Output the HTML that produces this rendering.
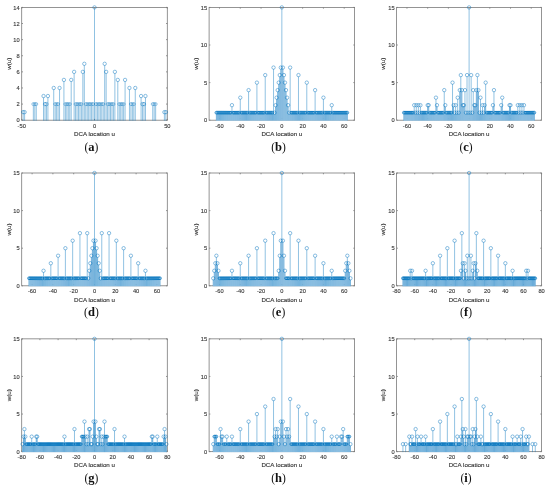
<!DOCTYPE html><html><head><meta charset="utf-8"><title>Weight functions</title>
<style>html,body{margin:0;padding:0;background:#fff}svg{display:block}.t{font-family:"Liberation Sans",Arial,sans-serif;font-size:5.7px;fill:#383838;stroke:#383838;stroke-width:0.12px}.l{font-family:"Liberation Sans",Arial,sans-serif;font-size:6.2px;fill:#383838;stroke:#383838;stroke-width:0.15px}.c{font-family:"Liberation Serif","DejaVu Serif",serif;font-size:11.5px;fill:#111}.c tspan{font-weight:bold;font-size:12.5px}</style></head><body>
<svg width="550" height="489" viewBox="0 0 550 489">
<rect width="550" height="489" fill="#fff"/>
<g id="plot-a">
<rect x="21.7" y="7.4" width="145.6" height="112.8" fill="none" stroke="#7a7a7a" stroke-width="0.8"/>
<text class="t" x="21.7" y="127.8" text-anchor="middle">-50</text>
<text class="t" x="94.5" y="127.8" text-anchor="middle">0</text>
<text class="t" x="167.3" y="127.8" text-anchor="middle">50</text>
<text class="t" x="19.7" y="122.3" text-anchor="end">0</text>
<text class="t" x="19.7" y="106.19" text-anchor="end">2</text>
<text class="t" x="19.7" y="90.07" text-anchor="end">4</text>
<text class="t" x="19.7" y="73.96" text-anchor="end">6</text>
<text class="t" x="19.7" y="57.84" text-anchor="end">8</text>
<text class="t" x="19.7" y="41.73" text-anchor="end">10</text>
<text class="t" x="19.7" y="25.61" text-anchor="end">12</text>
<text class="t" x="19.7" y="9.5" text-anchor="end">14</text>
<path d="M21.7 120.2v-1.3M21.7 7.4v1.3M94.5 120.2v-1.3M94.5 7.4v1.3M167.3 120.2v-1.3M167.3 7.4v1.3M21.7 120.2h1.3M167.3 120.2h-1.3M21.7 104.09h1.3M167.3 104.09h-1.3M21.7 87.97h1.3M167.3 87.97h-1.3M21.7 71.86h1.3M167.3 71.86h-1.3M21.7 55.74h1.3M167.3 55.74h-1.3M21.7 39.63h1.3M167.3 39.63h-1.3M21.7 23.51h1.3M167.3 23.51h-1.3M21.7 7.4h1.3M167.3 7.4h-1.3" stroke="#7a7a7a" stroke-width="0.8" fill="none"/>
<path d="M23.16 120.7V113.64M24.61 120.7V113.64M33.35 120.7V105.59M34.8 120.7V105.59M36.26 120.7V105.59M43.54 120.7V97.53M45 120.7V105.59M46.45 120.7V105.59M47.91 120.7V97.53M53.73 120.7V89.47M55.19 120.7V105.59M56.64 120.7V105.59M58.1 120.7V105.59M59.56 120.7V89.47M63.92 120.7V81.41M65.38 120.7V105.59M66.84 120.7V105.59M68.29 120.7V105.59M69.75 120.7V105.59M71.2 120.7V81.41M74.12 120.7V73.36M75.57 120.7V105.59M77.03 120.7V105.59M78.48 120.7V105.59M79.94 120.7V105.59M81.4 120.7V105.59M82.85 120.7V73.36M84.31 120.7V65.3M85.76 120.7V105.59M87.22 120.7V105.59M88.68 120.7V105.59M90.13 120.7V105.59M91.59 120.7V105.59M93.04 120.7V105.59M94.5 120.7V8.9M95.96 120.7V105.59M97.41 120.7V105.59M98.87 120.7V105.59M100.32 120.7V105.59M101.78 120.7V105.59M103.24 120.7V105.59M104.69 120.7V65.3M106.15 120.7V73.36M107.6 120.7V105.59M109.06 120.7V105.59M110.52 120.7V105.59M111.97 120.7V105.59M113.43 120.7V105.59M114.88 120.7V73.36M117.8 120.7V81.41M119.25 120.7V105.59M120.71 120.7V105.59M122.16 120.7V105.59M123.62 120.7V105.59M125.08 120.7V81.41M129.44 120.7V89.47M130.9 120.7V105.59M132.36 120.7V105.59M133.81 120.7V105.59M135.27 120.7V89.47M141.09 120.7V97.53M142.55 120.7V105.59M144 120.7V105.59M145.46 120.7V97.53M152.74 120.7V105.59M154.2 120.7V105.59M155.65 120.7V105.59M164.39 120.7V113.64M165.84 120.7V113.64" stroke="#0072BD" stroke-width="0.8" stroke-opacity="0.55" fill="none"/>
<g fill="none" stroke="#0072BD" stroke-width="0.5" stroke-opacity="0.9">
<circle cx="23.16" cy="112.14" r="1.7"/>
<circle cx="24.61" cy="112.14" r="1.7"/>
<circle cx="43.54" cy="96.03" r="1.7"/>
<circle cx="45" cy="104.09" r="1.7"/>
<circle cx="46.45" cy="104.09" r="1.7"/>
<circle cx="47.91" cy="96.03" r="1.7"/>
<circle cx="53.73" cy="87.97" r="1.7"/>
<circle cx="59.56" cy="87.97" r="1.7"/>
<circle cx="63.92" cy="79.91" r="1.7"/>
<circle cx="71.2" cy="79.91" r="1.7"/>
<circle cx="74.12" cy="71.86" r="1.7"/>
<circle cx="82.85" cy="71.86" r="1.7"/>
<circle cx="84.31" cy="63.8" r="1.7"/>
<circle cx="94.5" cy="7.4" r="1.7"/>
<circle cx="104.69" cy="63.8" r="1.7"/>
<circle cx="106.15" cy="71.86" r="1.7"/>
<circle cx="114.88" cy="71.86" r="1.7"/>
<circle cx="117.8" cy="79.91" r="1.7"/>
<circle cx="125.08" cy="79.91" r="1.7"/>
<circle cx="129.44" cy="87.97" r="1.7"/>
<circle cx="135.27" cy="87.97" r="1.7"/>
<circle cx="141.09" cy="96.03" r="1.7"/>
<circle cx="142.55" cy="104.09" r="1.7"/>
<circle cx="144" cy="104.09" r="1.7"/>
<circle cx="145.46" cy="96.03" r="1.7"/>
<circle cx="164.39" cy="112.14" r="1.7"/>
<circle cx="165.84" cy="112.14" r="1.7"/>
</g>
<g fill="none" stroke="#0072BD" stroke-width="0.5" stroke-opacity="0.85">
<circle cx="33.35" cy="104.09" r="1.5"/>
<circle cx="34.8" cy="104.09" r="1.5"/>
<circle cx="36.26" cy="104.09" r="1.5"/>
<circle cx="55.19" cy="104.09" r="1.5"/>
<circle cx="56.64" cy="104.09" r="1.5"/>
<circle cx="58.1" cy="104.09" r="1.5"/>
<circle cx="65.38" cy="104.09" r="1.5"/>
<circle cx="66.84" cy="104.09" r="1.5"/>
<circle cx="68.29" cy="104.09" r="1.5"/>
<circle cx="69.75" cy="104.09" r="1.5"/>
<circle cx="75.57" cy="104.09" r="1.5"/>
<circle cx="77.03" cy="104.09" r="1.5"/>
<circle cx="78.48" cy="104.09" r="1.5"/>
<circle cx="79.94" cy="104.09" r="1.5"/>
<circle cx="81.4" cy="104.09" r="1.5"/>
<circle cx="85.76" cy="104.09" r="1.5"/>
<circle cx="87.22" cy="104.09" r="1.5"/>
<circle cx="88.68" cy="104.09" r="1.5"/>
<circle cx="90.13" cy="104.09" r="1.5"/>
<circle cx="91.59" cy="104.09" r="1.5"/>
<circle cx="93.04" cy="104.09" r="1.5"/>
<circle cx="95.96" cy="104.09" r="1.5"/>
<circle cx="97.41" cy="104.09" r="1.5"/>
<circle cx="98.87" cy="104.09" r="1.5"/>
<circle cx="100.32" cy="104.09" r="1.5"/>
<circle cx="101.78" cy="104.09" r="1.5"/>
<circle cx="103.24" cy="104.09" r="1.5"/>
<circle cx="107.6" cy="104.09" r="1.5"/>
<circle cx="109.06" cy="104.09" r="1.5"/>
<circle cx="110.52" cy="104.09" r="1.5"/>
<circle cx="111.97" cy="104.09" r="1.5"/>
<circle cx="113.43" cy="104.09" r="1.5"/>
<circle cx="119.25" cy="104.09" r="1.5"/>
<circle cx="120.71" cy="104.09" r="1.5"/>
<circle cx="122.16" cy="104.09" r="1.5"/>
<circle cx="123.62" cy="104.09" r="1.5"/>
<circle cx="130.9" cy="104.09" r="1.5"/>
<circle cx="132.36" cy="104.09" r="1.5"/>
<circle cx="133.81" cy="104.09" r="1.5"/>
<circle cx="152.74" cy="104.09" r="1.5"/>
<circle cx="154.2" cy="104.09" r="1.5"/>
<circle cx="155.65" cy="104.09" r="1.5"/>
</g>
<text class="l" x="94.5" y="136" text-anchor="middle">DCA location u</text>
<text class="l" transform="translate(10.5 63.8) rotate(-90)" text-anchor="middle">w(u)</text>
<text class="c" x="91.4" y="150.55" text-anchor="middle">(<tspan>a</tspan>)</text>
</g>
<g id="plot-b">
<rect x="209.1" y="7.4" width="145.5" height="112.8" fill="none" stroke="#7a7a7a" stroke-width="0.8"/>
<text class="t" x="219.49" y="127.8" text-anchor="middle">-60</text>
<text class="t" x="240.28" y="127.8" text-anchor="middle">-40</text>
<text class="t" x="261.06" y="127.8" text-anchor="middle">-20</text>
<text class="t" x="281.85" y="127.8" text-anchor="middle">0</text>
<text class="t" x="302.64" y="127.8" text-anchor="middle">20</text>
<text class="t" x="323.42" y="127.8" text-anchor="middle">40</text>
<text class="t" x="344.21" y="127.8" text-anchor="middle">60</text>
<text class="t" x="207.1" y="122.3" text-anchor="end">0</text>
<text class="t" x="207.1" y="84.7" text-anchor="end">5</text>
<text class="t" x="207.1" y="47.1" text-anchor="end">10</text>
<text class="t" x="207.1" y="9.5" text-anchor="end">15</text>
<path d="M219.49 120.2v-1.3M219.49 7.4v1.3M240.28 120.2v-1.3M240.28 7.4v1.3M261.06 120.2v-1.3M261.06 7.4v1.3M281.85 120.2v-1.3M281.85 7.4v1.3M302.64 120.2v-1.3M302.64 7.4v1.3M323.42 120.2v-1.3M323.42 7.4v1.3M344.21 120.2v-1.3M344.21 7.4v1.3M209.1 120.2h1.3M354.6 120.2h-1.3M209.1 82.6h1.3M354.6 82.6h-1.3M209.1 45h1.3M354.6 45h-1.3M209.1 7.4h1.3M354.6 7.4h-1.3" stroke="#7a7a7a" stroke-width="0.8" fill="none"/>
<rect x="216.18" y="118.8" width="131.35" height="1.9" fill="#fff"/>
<path d="M231.96 112.68V106.66M240.28 112.68V99.14M248.59 112.68V91.62M256.91 112.68V84.1M265.22 112.68V76.58M273.54 112.68V69.06M281.85 67.56V8.9M290.16 112.68V69.06M298.48 112.68V76.58M306.79 112.68V84.1M315.11 112.68V91.62M323.42 112.68V99.14M331.74 112.68V106.66" stroke="#0072BD" stroke-width="0.8" stroke-opacity="0.55" fill="none"/>
<path d="M216.38 120.7V114.18M217.41 120.7V114.18M218.45 120.7V114.18M219.49 120.7V114.18M220.53 120.7V114.18M221.57 120.7V114.18M222.61 120.7V114.18M223.65 120.7V114.18M224.69 120.7V114.18M225.73 120.7V114.18M226.77 120.7V114.18M227.81 120.7V114.18M228.85 120.7V114.18M229.89 120.7V114.18M230.93 120.7V114.18M231.96 120.7V112.68M233 120.7V114.18M234.04 120.7V114.18M235.08 120.7V114.18M236.12 120.7V114.18M237.16 120.7V114.18M238.2 120.7V114.18M239.24 120.7V114.18M240.28 120.7V112.68M241.32 120.7V114.18M242.36 120.7V114.18M243.4 120.7V114.18M244.44 120.7V114.18M245.48 120.7V114.18M246.51 120.7V114.18M247.55 120.7V114.18M248.59 120.7V112.68M249.63 120.7V114.18M250.67 120.7V114.18M251.71 120.7V114.18M252.75 120.7V114.18M253.79 120.7V114.18M254.83 120.7V114.18M255.87 120.7V114.18M256.91 120.7V112.68M257.95 120.7V114.18M258.99 120.7V114.18M260.03 120.7V114.18M261.06 120.7V114.18M262.1 120.7V114.18M263.14 120.7V114.18M264.18 120.7V114.18M265.22 120.7V112.68M266.26 120.7V114.18M267.3 120.7V114.18M268.34 120.7V114.18M269.38 120.7V114.18M270.42 120.7V114.18M271.46 120.7V114.18M272.5 120.7V114.18M273.54 120.7V112.68M274.58 120.7V114.18M275.61 120.7V106.66M276.65 120.7V99.14M277.69 120.7V91.62M278.73 120.7V84.1M279.77 120.7V76.58M280.81 120.7V69.06M281.85 120.7V67.56M282.89 120.7V69.06M283.93 120.7V76.58M284.97 120.7V84.1M286.01 120.7V91.62M287.05 120.7V99.14M288.09 120.7V106.66M289.12 120.7V114.18M290.16 120.7V112.68M291.2 120.7V114.18M292.24 120.7V114.18M293.28 120.7V114.18M294.32 120.7V114.18M295.36 120.7V114.18M296.4 120.7V114.18M297.44 120.7V114.18M298.48 120.7V112.68M299.52 120.7V114.18M300.56 120.7V114.18M301.6 120.7V114.18M302.64 120.7V114.18M303.68 120.7V114.18M304.71 120.7V114.18M305.75 120.7V114.18M306.79 120.7V112.68M307.83 120.7V114.18M308.87 120.7V114.18M309.91 120.7V114.18M310.95 120.7V114.18M311.99 120.7V114.18M313.03 120.7V114.18M314.07 120.7V114.18M315.11 120.7V112.68M316.15 120.7V114.18M317.19 120.7V114.18M318.23 120.7V114.18M319.26 120.7V114.18M320.3 120.7V114.18M321.34 120.7V114.18M322.38 120.7V114.18M323.42 120.7V112.68M324.46 120.7V114.18M325.5 120.7V114.18M326.54 120.7V114.18M327.58 120.7V114.18M328.62 120.7V114.18M329.66 120.7V114.18M330.7 120.7V114.18M331.74 120.7V112.68M332.78 120.7V114.18M333.81 120.7V114.18M334.85 120.7V114.18M335.89 120.7V114.18M336.93 120.7V114.18M337.97 120.7V114.18M339.01 120.7V114.18M340.05 120.7V114.18M341.09 120.7V114.18M342.13 120.7V114.18M343.17 120.7V114.18M344.21 120.7V114.18M345.25 120.7V114.18M346.29 120.7V114.18M347.33 120.7V114.18" stroke="#0072BD" stroke-width="0.9" stroke-opacity="0.62" fill="none"/>
<g fill="none" stroke="#0072BD" stroke-width="0.5" stroke-opacity="0.9">
<circle cx="231.96" cy="105.16" r="1.7"/>
<circle cx="240.28" cy="97.64" r="1.7"/>
<circle cx="248.59" cy="90.12" r="1.7"/>
<circle cx="256.91" cy="82.6" r="1.7"/>
<circle cx="265.22" cy="75.08" r="1.7"/>
<circle cx="273.54" cy="67.56" r="1.7"/>
<circle cx="274.58" cy="112.68" r="1.7"/>
<circle cx="275.61" cy="105.16" r="1.7"/>
<circle cx="276.65" cy="97.64" r="1.7"/>
<circle cx="277.69" cy="90.12" r="1.7"/>
<circle cx="278.73" cy="82.6" r="1.7"/>
<circle cx="279.77" cy="75.08" r="1.7"/>
<circle cx="280.81" cy="67.56" r="1.7"/>
<circle cx="281.85" cy="7.4" r="1.7"/>
<circle cx="282.89" cy="67.56" r="1.7"/>
<circle cx="283.93" cy="75.08" r="1.7"/>
<circle cx="284.97" cy="82.6" r="1.7"/>
<circle cx="286.01" cy="90.12" r="1.7"/>
<circle cx="287.05" cy="97.64" r="1.7"/>
<circle cx="288.09" cy="105.16" r="1.7"/>
<circle cx="289.12" cy="112.68" r="1.7"/>
<circle cx="290.16" cy="67.56" r="1.7"/>
<circle cx="298.48" cy="75.08" r="1.7"/>
<circle cx="306.79" cy="82.6" r="1.7"/>
<circle cx="315.11" cy="90.12" r="1.7"/>
<circle cx="323.42" cy="97.64" r="1.7"/>
<circle cx="331.74" cy="105.16" r="1.7"/>
</g>
<g fill="none" stroke="#0072BD" stroke-width="0.7" stroke-opacity="1.0">
<circle cx="216.38" cy="112.68" r="1.4"/>
<circle cx="217.41" cy="112.68" r="1.4"/>
<circle cx="218.45" cy="112.68" r="1.4"/>
<circle cx="219.49" cy="112.68" r="1.4"/>
<circle cx="220.53" cy="112.68" r="1.4"/>
<circle cx="221.57" cy="112.68" r="1.4"/>
<circle cx="222.61" cy="112.68" r="1.4"/>
<circle cx="223.65" cy="112.68" r="1.4"/>
<circle cx="224.69" cy="112.68" r="1.4"/>
<circle cx="225.73" cy="112.68" r="1.4"/>
<circle cx="226.77" cy="112.68" r="1.4"/>
<circle cx="227.81" cy="112.68" r="1.4"/>
<circle cx="228.85" cy="112.68" r="1.4"/>
<circle cx="229.89" cy="112.68" r="1.4"/>
<circle cx="230.93" cy="112.68" r="1.4"/>
<circle cx="233" cy="112.68" r="1.4"/>
<circle cx="234.04" cy="112.68" r="1.4"/>
<circle cx="235.08" cy="112.68" r="1.4"/>
<circle cx="236.12" cy="112.68" r="1.4"/>
<circle cx="237.16" cy="112.68" r="1.4"/>
<circle cx="238.2" cy="112.68" r="1.4"/>
<circle cx="239.24" cy="112.68" r="1.4"/>
<circle cx="241.32" cy="112.68" r="1.4"/>
<circle cx="242.36" cy="112.68" r="1.4"/>
<circle cx="243.4" cy="112.68" r="1.4"/>
<circle cx="244.44" cy="112.68" r="1.4"/>
<circle cx="245.48" cy="112.68" r="1.4"/>
<circle cx="246.51" cy="112.68" r="1.4"/>
<circle cx="247.55" cy="112.68" r="1.4"/>
<circle cx="249.63" cy="112.68" r="1.4"/>
<circle cx="250.67" cy="112.68" r="1.4"/>
<circle cx="251.71" cy="112.68" r="1.4"/>
<circle cx="252.75" cy="112.68" r="1.4"/>
<circle cx="253.79" cy="112.68" r="1.4"/>
<circle cx="254.83" cy="112.68" r="1.4"/>
<circle cx="255.87" cy="112.68" r="1.4"/>
<circle cx="257.95" cy="112.68" r="1.4"/>
<circle cx="258.99" cy="112.68" r="1.4"/>
<circle cx="260.03" cy="112.68" r="1.4"/>
<circle cx="261.06" cy="112.68" r="1.4"/>
<circle cx="262.1" cy="112.68" r="1.4"/>
<circle cx="263.14" cy="112.68" r="1.4"/>
<circle cx="264.18" cy="112.68" r="1.4"/>
<circle cx="266.26" cy="112.68" r="1.4"/>
<circle cx="267.3" cy="112.68" r="1.4"/>
<circle cx="268.34" cy="112.68" r="1.4"/>
<circle cx="269.38" cy="112.68" r="1.4"/>
<circle cx="270.42" cy="112.68" r="1.4"/>
<circle cx="271.46" cy="112.68" r="1.4"/>
<circle cx="272.5" cy="112.68" r="1.4"/>
<circle cx="291.2" cy="112.68" r="1.4"/>
<circle cx="292.24" cy="112.68" r="1.4"/>
<circle cx="293.28" cy="112.68" r="1.4"/>
<circle cx="294.32" cy="112.68" r="1.4"/>
<circle cx="295.36" cy="112.68" r="1.4"/>
<circle cx="296.4" cy="112.68" r="1.4"/>
<circle cx="297.44" cy="112.68" r="1.4"/>
<circle cx="299.52" cy="112.68" r="1.4"/>
<circle cx="300.56" cy="112.68" r="1.4"/>
<circle cx="301.6" cy="112.68" r="1.4"/>
<circle cx="302.64" cy="112.68" r="1.4"/>
<circle cx="303.68" cy="112.68" r="1.4"/>
<circle cx="304.71" cy="112.68" r="1.4"/>
<circle cx="305.75" cy="112.68" r="1.4"/>
<circle cx="307.83" cy="112.68" r="1.4"/>
<circle cx="308.87" cy="112.68" r="1.4"/>
<circle cx="309.91" cy="112.68" r="1.4"/>
<circle cx="310.95" cy="112.68" r="1.4"/>
<circle cx="311.99" cy="112.68" r="1.4"/>
<circle cx="313.03" cy="112.68" r="1.4"/>
<circle cx="314.07" cy="112.68" r="1.4"/>
<circle cx="316.15" cy="112.68" r="1.4"/>
<circle cx="317.19" cy="112.68" r="1.4"/>
<circle cx="318.23" cy="112.68" r="1.4"/>
<circle cx="319.26" cy="112.68" r="1.4"/>
<circle cx="320.3" cy="112.68" r="1.4"/>
<circle cx="321.34" cy="112.68" r="1.4"/>
<circle cx="322.38" cy="112.68" r="1.4"/>
<circle cx="324.46" cy="112.68" r="1.4"/>
<circle cx="325.5" cy="112.68" r="1.4"/>
<circle cx="326.54" cy="112.68" r="1.4"/>
<circle cx="327.58" cy="112.68" r="1.4"/>
<circle cx="328.62" cy="112.68" r="1.4"/>
<circle cx="329.66" cy="112.68" r="1.4"/>
<circle cx="330.7" cy="112.68" r="1.4"/>
<circle cx="332.78" cy="112.68" r="1.4"/>
<circle cx="333.81" cy="112.68" r="1.4"/>
<circle cx="334.85" cy="112.68" r="1.4"/>
<circle cx="335.89" cy="112.68" r="1.4"/>
<circle cx="336.93" cy="112.68" r="1.4"/>
<circle cx="337.97" cy="112.68" r="1.4"/>
<circle cx="339.01" cy="112.68" r="1.4"/>
<circle cx="340.05" cy="112.68" r="1.4"/>
<circle cx="341.09" cy="112.68" r="1.4"/>
<circle cx="342.13" cy="112.68" r="1.4"/>
<circle cx="343.17" cy="112.68" r="1.4"/>
<circle cx="344.21" cy="112.68" r="1.4"/>
<circle cx="345.25" cy="112.68" r="1.4"/>
<circle cx="346.29" cy="112.68" r="1.4"/>
<circle cx="347.33" cy="112.68" r="1.4"/>
</g>
<text class="l" x="281.85" y="136" text-anchor="middle">DCA location u</text>
<text class="l" transform="translate(197.9 63.8) rotate(-90)" text-anchor="middle">w(u)</text>
<text class="c" x="278.6" y="150.55" text-anchor="middle">(<tspan>b</tspan>)</text>
</g>
<g id="plot-c">
<rect x="396.6" y="7.4" width="145" height="112.8" fill="none" stroke="#7a7a7a" stroke-width="0.8"/>
<text class="t" x="406.96" y="127.8" text-anchor="middle">-60</text>
<text class="t" x="427.67" y="127.8" text-anchor="middle">-40</text>
<text class="t" x="448.39" y="127.8" text-anchor="middle">-20</text>
<text class="t" x="469.1" y="127.8" text-anchor="middle">0</text>
<text class="t" x="489.81" y="127.8" text-anchor="middle">20</text>
<text class="t" x="510.53" y="127.8" text-anchor="middle">40</text>
<text class="t" x="531.24" y="127.8" text-anchor="middle">60</text>
<text class="t" x="394.6" y="122.3" text-anchor="end">0</text>
<text class="t" x="394.6" y="84.7" text-anchor="end">5</text>
<text class="t" x="394.6" y="47.1" text-anchor="end">10</text>
<text class="t" x="394.6" y="9.5" text-anchor="end">15</text>
<path d="M406.96 120.2v-1.3M406.96 7.4v1.3M427.67 120.2v-1.3M427.67 7.4v1.3M448.39 120.2v-1.3M448.39 7.4v1.3M469.1 120.2v-1.3M469.1 7.4v1.3M489.81 120.2v-1.3M489.81 7.4v1.3M510.53 120.2v-1.3M510.53 7.4v1.3M531.24 120.2v-1.3M531.24 7.4v1.3M396.6 120.2h1.3M541.6 120.2h-1.3M396.6 82.6h1.3M541.6 82.6h-1.3M396.6 45h1.3M541.6 45h-1.3M396.6 7.4h1.3M541.6 7.4h-1.3" stroke="#7a7a7a" stroke-width="0.8" fill="none"/>
<rect x="403.65" y="118.8" width="130.9" height="1.9" fill="#fff"/>
<path d="M414.21 112.68V106.66M416.28 112.68V106.66M418.35 112.68V106.66M420.42 112.68V106.66M435.96 105.16V99.14M444.24 105.16V91.62M452.53 105.16V84.1M455.64 112.68V106.66M457.71 112.68V99.14M460.81 90.12V76.58M464.96 105.16V91.62M467.03 112.68V76.58M469.1 112.68V8.9M471.17 112.68V76.58M473.24 105.16V91.62M477.39 90.12V76.58M480.49 112.68V99.14M482.56 112.68V106.66M485.67 105.16V84.1M493.96 105.16V91.62M502.24 105.16V99.14M517.78 112.68V106.66M519.85 112.68V106.66M521.92 112.68V106.66M523.99 112.68V106.66" stroke="#0072BD" stroke-width="0.8" stroke-opacity="0.55" fill="none"/>
<path d="M403.85 120.7V114.18M404.89 120.7V114.18M405.92 120.7V114.18M406.96 120.7V114.18M407.99 120.7V114.18M409.03 120.7V114.18M410.06 120.7V114.18M411.1 120.7V114.18M412.14 120.7V114.18M413.17 120.7V114.18M414.21 120.7V112.68M415.24 120.7V114.18M416.28 120.7V112.68M417.31 120.7V114.18M418.35 120.7V112.68M419.39 120.7V114.18M420.42 120.7V112.68M421.46 120.7V114.18M422.49 120.7V114.18M423.53 120.7V114.18M424.56 120.7V114.18M425.6 120.7V114.18M426.64 120.7V114.18M427.67 120.7V106.66M428.71 120.7V106.66M429.74 120.7V114.18M430.78 120.7V114.18M431.81 120.7V114.18M432.85 120.7V114.18M433.89 120.7V114.18M434.92 120.7V114.18M435.96 120.7V105.16M436.99 120.7V106.66M438.03 120.7V114.18M439.06 120.7V114.18M440.1 120.7V114.18M441.14 120.7V114.18M442.17 120.7V114.18M443.21 120.7V114.18M444.24 120.7V105.16M445.28 120.7V106.66M446.31 120.7V114.18M447.35 120.7V114.18M448.39 120.7V114.18M449.42 120.7V114.18M450.46 120.7V114.18M451.49 120.7V114.18M452.53 120.7V105.16M453.56 120.7V106.66M454.6 120.7V114.18M455.64 120.7V112.68M456.67 120.7V114.18M457.71 120.7V112.68M458.74 120.7V114.18M459.78 120.7V91.62M460.81 120.7V90.12M461.85 120.7V91.62M462.89 120.7V106.66M463.92 120.7V106.66M464.96 120.7V105.16M465.99 120.7V114.18M467.03 120.7V112.68M468.06 120.7V114.18M469.1 120.7V112.68M470.14 120.7V114.18M471.17 120.7V112.68M472.21 120.7V114.18M473.24 120.7V105.16M474.28 120.7V106.66M475.31 120.7V106.66M476.35 120.7V91.62M477.39 120.7V90.12M478.42 120.7V91.62M479.46 120.7V114.18M480.49 120.7V112.68M481.53 120.7V114.18M482.56 120.7V112.68M483.6 120.7V114.18M484.64 120.7V106.66M485.67 120.7V105.16M486.71 120.7V114.18M487.74 120.7V114.18M488.78 120.7V114.18M489.81 120.7V114.18M490.85 120.7V114.18M491.89 120.7V114.18M492.92 120.7V106.66M493.96 120.7V105.16M494.99 120.7V114.18M496.03 120.7V114.18M497.06 120.7V114.18M498.1 120.7V114.18M499.14 120.7V114.18M500.17 120.7V114.18M501.21 120.7V106.66M502.24 120.7V105.16M503.28 120.7V114.18M504.31 120.7V114.18M505.35 120.7V114.18M506.39 120.7V114.18M507.42 120.7V114.18M508.46 120.7V114.18M509.49 120.7V106.66M510.53 120.7V106.66M511.56 120.7V114.18M512.6 120.7V114.18M513.64 120.7V114.18M514.67 120.7V114.18M515.71 120.7V114.18M516.74 120.7V114.18M517.78 120.7V112.68M518.81 120.7V114.18M519.85 120.7V112.68M520.89 120.7V114.18M521.92 120.7V112.68M522.96 120.7V114.18M523.99 120.7V112.68M525.03 120.7V114.18M526.06 120.7V114.18M527.1 120.7V114.18M528.14 120.7V114.18M529.17 120.7V114.18M530.21 120.7V114.18M531.24 120.7V114.18M532.28 120.7V114.18M533.31 120.7V114.18M534.35 120.7V114.18" stroke="#0072BD" stroke-width="0.9" stroke-opacity="0.62" fill="none"/>
<g fill="none" stroke="#0072BD" stroke-width="0.5" stroke-opacity="0.9">
<circle cx="414.21" cy="105.16" r="1.7"/>
<circle cx="415.24" cy="112.68" r="1.7"/>
<circle cx="416.28" cy="105.16" r="1.7"/>
<circle cx="417.31" cy="112.68" r="1.7"/>
<circle cx="418.35" cy="105.16" r="1.7"/>
<circle cx="419.39" cy="112.68" r="1.7"/>
<circle cx="420.42" cy="105.16" r="1.7"/>
<circle cx="427.67" cy="105.16" r="1.7"/>
<circle cx="428.71" cy="105.16" r="1.7"/>
<circle cx="435.96" cy="97.64" r="1.7"/>
<circle cx="436.99" cy="105.16" r="1.7"/>
<circle cx="444.24" cy="90.12" r="1.7"/>
<circle cx="445.28" cy="105.16" r="1.7"/>
<circle cx="452.53" cy="82.6" r="1.7"/>
<circle cx="453.56" cy="105.16" r="1.7"/>
<circle cx="454.6" cy="112.68" r="1.7"/>
<circle cx="455.64" cy="105.16" r="1.7"/>
<circle cx="456.67" cy="112.68" r="1.7"/>
<circle cx="457.71" cy="97.64" r="1.7"/>
<circle cx="458.74" cy="112.68" r="1.7"/>
<circle cx="459.78" cy="90.12" r="1.7"/>
<circle cx="460.81" cy="75.08" r="1.7"/>
<circle cx="461.85" cy="90.12" r="1.7"/>
<circle cx="462.89" cy="105.16" r="1.7"/>
<circle cx="463.92" cy="105.16" r="1.7"/>
<circle cx="464.96" cy="90.12" r="1.7"/>
<circle cx="465.99" cy="112.68" r="1.7"/>
<circle cx="467.03" cy="75.08" r="1.7"/>
<circle cx="468.06" cy="112.68" r="1.7"/>
<circle cx="469.1" cy="7.4" r="1.7"/>
<circle cx="470.14" cy="112.68" r="1.7"/>
<circle cx="471.17" cy="75.08" r="1.7"/>
<circle cx="472.21" cy="112.68" r="1.7"/>
<circle cx="473.24" cy="90.12" r="1.7"/>
<circle cx="474.28" cy="105.16" r="1.7"/>
<circle cx="475.31" cy="105.16" r="1.7"/>
<circle cx="476.35" cy="90.12" r="1.7"/>
<circle cx="477.39" cy="75.08" r="1.7"/>
<circle cx="478.42" cy="90.12" r="1.7"/>
<circle cx="479.46" cy="112.68" r="1.7"/>
<circle cx="480.49" cy="97.64" r="1.7"/>
<circle cx="481.53" cy="112.68" r="1.7"/>
<circle cx="482.56" cy="105.16" r="1.7"/>
<circle cx="483.6" cy="112.68" r="1.7"/>
<circle cx="484.64" cy="105.16" r="1.7"/>
<circle cx="485.67" cy="82.6" r="1.7"/>
<circle cx="492.92" cy="105.16" r="1.7"/>
<circle cx="493.96" cy="90.12" r="1.7"/>
<circle cx="501.21" cy="105.16" r="1.7"/>
<circle cx="502.24" cy="97.64" r="1.7"/>
<circle cx="509.49" cy="105.16" r="1.7"/>
<circle cx="510.53" cy="105.16" r="1.7"/>
<circle cx="517.78" cy="105.16" r="1.7"/>
<circle cx="518.81" cy="112.68" r="1.7"/>
<circle cx="519.85" cy="105.16" r="1.7"/>
<circle cx="520.89" cy="112.68" r="1.7"/>
<circle cx="521.92" cy="105.16" r="1.7"/>
<circle cx="522.96" cy="112.68" r="1.7"/>
<circle cx="523.99" cy="105.16" r="1.7"/>
</g>
<g fill="none" stroke="#0072BD" stroke-width="0.7" stroke-opacity="1.0">
<circle cx="403.85" cy="112.68" r="1.4"/>
<circle cx="404.89" cy="112.68" r="1.4"/>
<circle cx="405.92" cy="112.68" r="1.4"/>
<circle cx="406.96" cy="112.68" r="1.4"/>
<circle cx="407.99" cy="112.68" r="1.4"/>
<circle cx="409.03" cy="112.68" r="1.4"/>
<circle cx="410.06" cy="112.68" r="1.4"/>
<circle cx="411.1" cy="112.68" r="1.4"/>
<circle cx="412.14" cy="112.68" r="1.4"/>
<circle cx="413.17" cy="112.68" r="1.4"/>
<circle cx="421.46" cy="112.68" r="1.4"/>
<circle cx="422.49" cy="112.68" r="1.4"/>
<circle cx="423.53" cy="112.68" r="1.4"/>
<circle cx="424.56" cy="112.68" r="1.4"/>
<circle cx="425.6" cy="112.68" r="1.4"/>
<circle cx="426.64" cy="112.68" r="1.4"/>
<circle cx="429.74" cy="112.68" r="1.4"/>
<circle cx="430.78" cy="112.68" r="1.4"/>
<circle cx="431.81" cy="112.68" r="1.4"/>
<circle cx="432.85" cy="112.68" r="1.4"/>
<circle cx="433.89" cy="112.68" r="1.4"/>
<circle cx="434.92" cy="112.68" r="1.4"/>
<circle cx="438.03" cy="112.68" r="1.4"/>
<circle cx="439.06" cy="112.68" r="1.4"/>
<circle cx="440.1" cy="112.68" r="1.4"/>
<circle cx="441.14" cy="112.68" r="1.4"/>
<circle cx="442.17" cy="112.68" r="1.4"/>
<circle cx="443.21" cy="112.68" r="1.4"/>
<circle cx="446.31" cy="112.68" r="1.4"/>
<circle cx="447.35" cy="112.68" r="1.4"/>
<circle cx="448.39" cy="112.68" r="1.4"/>
<circle cx="449.42" cy="112.68" r="1.4"/>
<circle cx="450.46" cy="112.68" r="1.4"/>
<circle cx="451.49" cy="112.68" r="1.4"/>
<circle cx="486.71" cy="112.68" r="1.4"/>
<circle cx="487.74" cy="112.68" r="1.4"/>
<circle cx="488.78" cy="112.68" r="1.4"/>
<circle cx="489.81" cy="112.68" r="1.4"/>
<circle cx="490.85" cy="112.68" r="1.4"/>
<circle cx="491.89" cy="112.68" r="1.4"/>
<circle cx="494.99" cy="112.68" r="1.4"/>
<circle cx="496.03" cy="112.68" r="1.4"/>
<circle cx="497.06" cy="112.68" r="1.4"/>
<circle cx="498.1" cy="112.68" r="1.4"/>
<circle cx="499.14" cy="112.68" r="1.4"/>
<circle cx="500.17" cy="112.68" r="1.4"/>
<circle cx="503.28" cy="112.68" r="1.4"/>
<circle cx="504.31" cy="112.68" r="1.4"/>
<circle cx="505.35" cy="112.68" r="1.4"/>
<circle cx="506.39" cy="112.68" r="1.4"/>
<circle cx="507.42" cy="112.68" r="1.4"/>
<circle cx="508.46" cy="112.68" r="1.4"/>
<circle cx="511.56" cy="112.68" r="1.4"/>
<circle cx="512.6" cy="112.68" r="1.4"/>
<circle cx="513.64" cy="112.68" r="1.4"/>
<circle cx="514.67" cy="112.68" r="1.4"/>
<circle cx="515.71" cy="112.68" r="1.4"/>
<circle cx="516.74" cy="112.68" r="1.4"/>
<circle cx="525.03" cy="112.68" r="1.4"/>
<circle cx="526.06" cy="112.68" r="1.4"/>
<circle cx="527.1" cy="112.68" r="1.4"/>
<circle cx="528.14" cy="112.68" r="1.4"/>
<circle cx="529.17" cy="112.68" r="1.4"/>
<circle cx="530.21" cy="112.68" r="1.4"/>
<circle cx="531.24" cy="112.68" r="1.4"/>
<circle cx="532.28" cy="112.68" r="1.4"/>
<circle cx="533.31" cy="112.68" r="1.4"/>
<circle cx="534.35" cy="112.68" r="1.4"/>
</g>
<text class="l" x="469.1" y="136" text-anchor="middle">DCA location u</text>
<text class="l" transform="translate(385.4 63.8) rotate(-90)" text-anchor="middle">w(u)</text>
<text class="c" x="466.05" y="150.55" text-anchor="middle">(<tspan>c</tspan>)</text>
</g>
<g id="plot-d">
<rect x="21.7" y="173" width="145.6" height="112.8" fill="none" stroke="#7a7a7a" stroke-width="0.8"/>
<text class="t" x="32.1" y="293.4" text-anchor="middle">-60</text>
<text class="t" x="52.9" y="293.4" text-anchor="middle">-40</text>
<text class="t" x="73.7" y="293.4" text-anchor="middle">-20</text>
<text class="t" x="94.5" y="293.4" text-anchor="middle">0</text>
<text class="t" x="115.3" y="293.4" text-anchor="middle">20</text>
<text class="t" x="136.1" y="293.4" text-anchor="middle">40</text>
<text class="t" x="156.9" y="293.4" text-anchor="middle">60</text>
<text class="t" x="19.7" y="287.9" text-anchor="end">0</text>
<text class="t" x="19.7" y="250.3" text-anchor="end">5</text>
<text class="t" x="19.7" y="212.7" text-anchor="end">10</text>
<text class="t" x="19.7" y="175.1" text-anchor="end">15</text>
<path d="M32.1 285.8v-1.3M32.1 173v1.3M52.9 285.8v-1.3M52.9 173v1.3M73.7 285.8v-1.3M73.7 173v1.3M94.5 285.8v-1.3M94.5 173v1.3M115.3 285.8v-1.3M115.3 173v1.3M136.1 285.8v-1.3M136.1 173v1.3M156.9 285.8v-1.3M156.9 173v1.3M21.7 285.8h1.3M167.3 285.8h-1.3M21.7 248.2h1.3M167.3 248.2h-1.3M21.7 210.6h1.3M167.3 210.6h-1.3M21.7 173h1.3M167.3 173h-1.3" stroke="#7a7a7a" stroke-width="0.8" fill="none"/>
<rect x="28.78" y="284.4" width="131.44" height="1.9" fill="#fff"/>
<path d="M43.54 278.28V272.26M50.82 278.28V264.74M58.1 278.28V257.22M65.38 278.28V249.7M72.66 278.28V242.18M79.94 278.28V234.66M87.22 278.28V234.66M94.5 240.68V174.5M101.78 278.28V234.66M109.06 278.28V234.66M116.34 278.28V242.18M123.62 278.28V249.7M130.9 278.28V257.22M138.18 278.28V264.74M145.46 278.28V272.26" stroke="#0072BD" stroke-width="0.8" stroke-opacity="0.55" fill="none"/>
<path d="M28.98 286.3V279.78M30.02 286.3V279.78M31.06 286.3V279.78M32.1 286.3V279.78M33.14 286.3V279.78M34.18 286.3V279.78M35.22 286.3V279.78M36.26 286.3V279.78M37.3 286.3V279.78M38.34 286.3V279.78M39.38 286.3V279.78M40.42 286.3V279.78M41.46 286.3V279.78M42.5 286.3V279.78M43.54 286.3V278.28M44.58 286.3V279.78M45.62 286.3V279.78M46.66 286.3V279.78M47.7 286.3V279.78M48.74 286.3V279.78M49.78 286.3V279.78M50.82 286.3V278.28M51.86 286.3V279.78M52.9 286.3V279.78M53.94 286.3V279.78M54.98 286.3V279.78M56.02 286.3V279.78M57.06 286.3V279.78M58.1 286.3V278.28M59.14 286.3V279.78M60.18 286.3V279.78M61.22 286.3V279.78M62.26 286.3V279.78M63.3 286.3V279.78M64.34 286.3V279.78M65.38 286.3V278.28M66.42 286.3V279.78M67.46 286.3V279.78M68.5 286.3V279.78M69.54 286.3V279.78M70.58 286.3V279.78M71.62 286.3V279.78M72.66 286.3V278.28M73.7 286.3V279.78M74.74 286.3V279.78M75.78 286.3V279.78M76.82 286.3V279.78M77.86 286.3V279.78M78.9 286.3V279.78M79.94 286.3V278.28M80.98 286.3V279.78M82.02 286.3V279.78M83.06 286.3V279.78M84.1 286.3V279.78M85.14 286.3V279.78M86.18 286.3V279.78M87.22 286.3V278.28M88.26 286.3V279.78M89.3 286.3V272.26M90.34 286.3V264.74M91.38 286.3V257.22M92.42 286.3V249.7M93.46 286.3V242.18M94.5 286.3V240.68M95.54 286.3V242.18M96.58 286.3V249.7M97.62 286.3V257.22M98.66 286.3V264.74M99.7 286.3V272.26M100.74 286.3V279.78M101.78 286.3V278.28M102.82 286.3V279.78M103.86 286.3V279.78M104.9 286.3V279.78M105.94 286.3V279.78M106.98 286.3V279.78M108.02 286.3V279.78M109.06 286.3V278.28M110.1 286.3V279.78M111.14 286.3V279.78M112.18 286.3V279.78M113.22 286.3V279.78M114.26 286.3V279.78M115.3 286.3V279.78M116.34 286.3V278.28M117.38 286.3V279.78M118.42 286.3V279.78M119.46 286.3V279.78M120.5 286.3V279.78M121.54 286.3V279.78M122.58 286.3V279.78M123.62 286.3V278.28M124.66 286.3V279.78M125.7 286.3V279.78M126.74 286.3V279.78M127.78 286.3V279.78M128.82 286.3V279.78M129.86 286.3V279.78M130.9 286.3V278.28M131.94 286.3V279.78M132.98 286.3V279.78M134.02 286.3V279.78M135.06 286.3V279.78M136.1 286.3V279.78M137.14 286.3V279.78M138.18 286.3V278.28M139.22 286.3V279.78M140.26 286.3V279.78M141.3 286.3V279.78M142.34 286.3V279.78M143.38 286.3V279.78M144.42 286.3V279.78M145.46 286.3V278.28M146.5 286.3V279.78M147.54 286.3V279.78M148.58 286.3V279.78M149.62 286.3V279.78M150.66 286.3V279.78M151.7 286.3V279.78M152.74 286.3V279.78M153.78 286.3V279.78M154.82 286.3V279.78M155.86 286.3V279.78M156.9 286.3V279.78M157.94 286.3V279.78M158.98 286.3V279.78M160.02 286.3V279.78" stroke="#0072BD" stroke-width="0.9" stroke-opacity="0.62" fill="none"/>
<g fill="none" stroke="#0072BD" stroke-width="0.5" stroke-opacity="0.9">
<circle cx="43.54" cy="270.76" r="1.7"/>
<circle cx="50.82" cy="263.24" r="1.7"/>
<circle cx="58.1" cy="255.72" r="1.7"/>
<circle cx="65.38" cy="248.2" r="1.7"/>
<circle cx="72.66" cy="240.68" r="1.7"/>
<circle cx="79.94" cy="233.16" r="1.7"/>
<circle cx="87.22" cy="233.16" r="1.7"/>
<circle cx="88.26" cy="278.28" r="1.7"/>
<circle cx="89.3" cy="270.76" r="1.7"/>
<circle cx="90.34" cy="263.24" r="1.7"/>
<circle cx="91.38" cy="255.72" r="1.7"/>
<circle cx="92.42" cy="248.2" r="1.7"/>
<circle cx="93.46" cy="240.68" r="1.7"/>
<circle cx="94.5" cy="173" r="1.7"/>
<circle cx="95.54" cy="240.68" r="1.7"/>
<circle cx="96.58" cy="248.2" r="1.7"/>
<circle cx="97.62" cy="255.72" r="1.7"/>
<circle cx="98.66" cy="263.24" r="1.7"/>
<circle cx="99.7" cy="270.76" r="1.7"/>
<circle cx="100.74" cy="278.28" r="1.7"/>
<circle cx="101.78" cy="233.16" r="1.7"/>
<circle cx="109.06" cy="233.16" r="1.7"/>
<circle cx="116.34" cy="240.68" r="1.7"/>
<circle cx="123.62" cy="248.2" r="1.7"/>
<circle cx="130.9" cy="255.72" r="1.7"/>
<circle cx="138.18" cy="263.24" r="1.7"/>
<circle cx="145.46" cy="270.76" r="1.7"/>
</g>
<g fill="none" stroke="#0072BD" stroke-width="0.7" stroke-opacity="1.0">
<circle cx="28.98" cy="278.28" r="1.4"/>
<circle cx="30.02" cy="278.28" r="1.4"/>
<circle cx="31.06" cy="278.28" r="1.4"/>
<circle cx="32.1" cy="278.28" r="1.4"/>
<circle cx="33.14" cy="278.28" r="1.4"/>
<circle cx="34.18" cy="278.28" r="1.4"/>
<circle cx="35.22" cy="278.28" r="1.4"/>
<circle cx="36.26" cy="278.28" r="1.4"/>
<circle cx="37.3" cy="278.28" r="1.4"/>
<circle cx="38.34" cy="278.28" r="1.4"/>
<circle cx="39.38" cy="278.28" r="1.4"/>
<circle cx="40.42" cy="278.28" r="1.4"/>
<circle cx="41.46" cy="278.28" r="1.4"/>
<circle cx="42.5" cy="278.28" r="1.4"/>
<circle cx="44.58" cy="278.28" r="1.4"/>
<circle cx="45.62" cy="278.28" r="1.4"/>
<circle cx="46.66" cy="278.28" r="1.4"/>
<circle cx="47.7" cy="278.28" r="1.4"/>
<circle cx="48.74" cy="278.28" r="1.4"/>
<circle cx="49.78" cy="278.28" r="1.4"/>
<circle cx="51.86" cy="278.28" r="1.4"/>
<circle cx="52.9" cy="278.28" r="1.4"/>
<circle cx="53.94" cy="278.28" r="1.4"/>
<circle cx="54.98" cy="278.28" r="1.4"/>
<circle cx="56.02" cy="278.28" r="1.4"/>
<circle cx="57.06" cy="278.28" r="1.4"/>
<circle cx="59.14" cy="278.28" r="1.4"/>
<circle cx="60.18" cy="278.28" r="1.4"/>
<circle cx="61.22" cy="278.28" r="1.4"/>
<circle cx="62.26" cy="278.28" r="1.4"/>
<circle cx="63.3" cy="278.28" r="1.4"/>
<circle cx="64.34" cy="278.28" r="1.4"/>
<circle cx="66.42" cy="278.28" r="1.4"/>
<circle cx="67.46" cy="278.28" r="1.4"/>
<circle cx="68.5" cy="278.28" r="1.4"/>
<circle cx="69.54" cy="278.28" r="1.4"/>
<circle cx="70.58" cy="278.28" r="1.4"/>
<circle cx="71.62" cy="278.28" r="1.4"/>
<circle cx="73.7" cy="278.28" r="1.4"/>
<circle cx="74.74" cy="278.28" r="1.4"/>
<circle cx="75.78" cy="278.28" r="1.4"/>
<circle cx="76.82" cy="278.28" r="1.4"/>
<circle cx="77.86" cy="278.28" r="1.4"/>
<circle cx="78.9" cy="278.28" r="1.4"/>
<circle cx="80.98" cy="278.28" r="1.4"/>
<circle cx="82.02" cy="278.28" r="1.4"/>
<circle cx="83.06" cy="278.28" r="1.4"/>
<circle cx="84.1" cy="278.28" r="1.4"/>
<circle cx="85.14" cy="278.28" r="1.4"/>
<circle cx="86.18" cy="278.28" r="1.4"/>
<circle cx="102.82" cy="278.28" r="1.4"/>
<circle cx="103.86" cy="278.28" r="1.4"/>
<circle cx="104.9" cy="278.28" r="1.4"/>
<circle cx="105.94" cy="278.28" r="1.4"/>
<circle cx="106.98" cy="278.28" r="1.4"/>
<circle cx="108.02" cy="278.28" r="1.4"/>
<circle cx="110.1" cy="278.28" r="1.4"/>
<circle cx="111.14" cy="278.28" r="1.4"/>
<circle cx="112.18" cy="278.28" r="1.4"/>
<circle cx="113.22" cy="278.28" r="1.4"/>
<circle cx="114.26" cy="278.28" r="1.4"/>
<circle cx="115.3" cy="278.28" r="1.4"/>
<circle cx="117.38" cy="278.28" r="1.4"/>
<circle cx="118.42" cy="278.28" r="1.4"/>
<circle cx="119.46" cy="278.28" r="1.4"/>
<circle cx="120.5" cy="278.28" r="1.4"/>
<circle cx="121.54" cy="278.28" r="1.4"/>
<circle cx="122.58" cy="278.28" r="1.4"/>
<circle cx="124.66" cy="278.28" r="1.4"/>
<circle cx="125.7" cy="278.28" r="1.4"/>
<circle cx="126.74" cy="278.28" r="1.4"/>
<circle cx="127.78" cy="278.28" r="1.4"/>
<circle cx="128.82" cy="278.28" r="1.4"/>
<circle cx="129.86" cy="278.28" r="1.4"/>
<circle cx="131.94" cy="278.28" r="1.4"/>
<circle cx="132.98" cy="278.28" r="1.4"/>
<circle cx="134.02" cy="278.28" r="1.4"/>
<circle cx="135.06" cy="278.28" r="1.4"/>
<circle cx="136.1" cy="278.28" r="1.4"/>
<circle cx="137.14" cy="278.28" r="1.4"/>
<circle cx="139.22" cy="278.28" r="1.4"/>
<circle cx="140.26" cy="278.28" r="1.4"/>
<circle cx="141.3" cy="278.28" r="1.4"/>
<circle cx="142.34" cy="278.28" r="1.4"/>
<circle cx="143.38" cy="278.28" r="1.4"/>
<circle cx="144.42" cy="278.28" r="1.4"/>
<circle cx="146.5" cy="278.28" r="1.4"/>
<circle cx="147.54" cy="278.28" r="1.4"/>
<circle cx="148.58" cy="278.28" r="1.4"/>
<circle cx="149.62" cy="278.28" r="1.4"/>
<circle cx="150.66" cy="278.28" r="1.4"/>
<circle cx="151.7" cy="278.28" r="1.4"/>
<circle cx="152.74" cy="278.28" r="1.4"/>
<circle cx="153.78" cy="278.28" r="1.4"/>
<circle cx="154.82" cy="278.28" r="1.4"/>
<circle cx="155.86" cy="278.28" r="1.4"/>
<circle cx="156.9" cy="278.28" r="1.4"/>
<circle cx="157.94" cy="278.28" r="1.4"/>
<circle cx="158.98" cy="278.28" r="1.4"/>
<circle cx="160.02" cy="278.28" r="1.4"/>
</g>
<text class="l" x="94.5" y="301.6" text-anchor="middle">DCA location u</text>
<text class="l" transform="translate(10.5 229.4) rotate(-90)" text-anchor="middle">w(u)</text>
<text class="c" x="91.4" y="316.15" text-anchor="middle">(<tspan>d</tspan>)</text>
</g>
<g id="plot-e">
<rect x="209.1" y="173" width="145.5" height="112.8" fill="none" stroke="#7a7a7a" stroke-width="0.8"/>
<text class="t" x="219.49" y="293.4" text-anchor="middle">-60</text>
<text class="t" x="240.28" y="293.4" text-anchor="middle">-40</text>
<text class="t" x="261.06" y="293.4" text-anchor="middle">-20</text>
<text class="t" x="281.85" y="293.4" text-anchor="middle">0</text>
<text class="t" x="302.64" y="293.4" text-anchor="middle">20</text>
<text class="t" x="323.42" y="293.4" text-anchor="middle">40</text>
<text class="t" x="344.21" y="293.4" text-anchor="middle">60</text>
<text class="t" x="207.1" y="287.9" text-anchor="end">0</text>
<text class="t" x="207.1" y="250.3" text-anchor="end">5</text>
<text class="t" x="207.1" y="212.7" text-anchor="end">10</text>
<text class="t" x="207.1" y="175.1" text-anchor="end">15</text>
<path d="M219.49 285.8v-1.3M219.49 173v1.3M240.28 285.8v-1.3M240.28 173v1.3M261.06 285.8v-1.3M261.06 173v1.3M281.85 285.8v-1.3M281.85 173v1.3M302.64 285.8v-1.3M302.64 173v1.3M323.42 285.8v-1.3M323.42 173v1.3M344.21 285.8v-1.3M344.21 173v1.3M209.1 285.8h1.3M354.6 285.8h-1.3M209.1 248.2h1.3M354.6 248.2h-1.3M209.1 210.6h1.3M354.6 210.6h-1.3M209.1 173h1.3M354.6 173h-1.3" stroke="#7a7a7a" stroke-width="0.8" fill="none"/>
<rect x="213.06" y="284.4" width="137.59" height="1.9" fill="#fff"/>
<path d="M216.38 263.24V257.22M231.96 278.28V272.26M240.28 278.28V264.74M248.59 278.28V257.22M256.91 278.28V249.7M265.22 278.28V242.18M273.54 278.28V234.66M281.85 240.68V174.5M290.16 278.28V234.66M298.48 278.28V242.18M306.79 278.28V249.7M315.11 278.28V257.22M323.42 278.28V264.74M331.74 278.28V272.26M347.33 263.24V257.22" stroke="#0072BD" stroke-width="0.8" stroke-opacity="0.55" fill="none"/>
<path d="M213.26 286.3V279.78M214.3 286.3V272.26M215.34 286.3V264.74M216.38 286.3V263.24M217.41 286.3V264.74M218.45 286.3V272.26M219.49 286.3V279.78M220.53 286.3V279.78M221.57 286.3V279.78M222.61 286.3V279.78M223.65 286.3V279.78M224.69 286.3V279.78M225.73 286.3V279.78M226.77 286.3V279.78M227.81 286.3V279.78M228.85 286.3V279.78M229.89 286.3V279.78M230.93 286.3V279.78M231.96 286.3V278.28M233 286.3V279.78M234.04 286.3V279.78M235.08 286.3V279.78M236.12 286.3V279.78M237.16 286.3V279.78M238.2 286.3V279.78M239.24 286.3V279.78M240.28 286.3V278.28M241.32 286.3V279.78M242.36 286.3V279.78M243.4 286.3V279.78M244.44 286.3V279.78M245.48 286.3V279.78M246.51 286.3V279.78M247.55 286.3V279.78M248.59 286.3V278.28M249.63 286.3V279.78M250.67 286.3V279.78M251.71 286.3V279.78M252.75 286.3V279.78M253.79 286.3V279.78M254.83 286.3V279.78M255.87 286.3V279.78M256.91 286.3V278.28M257.95 286.3V279.78M258.99 286.3V279.78M260.03 286.3V279.78M261.06 286.3V279.78M262.1 286.3V279.78M263.14 286.3V279.78M264.18 286.3V279.78M265.22 286.3V278.28M266.26 286.3V279.78M267.3 286.3V279.78M268.34 286.3V279.78M269.38 286.3V279.78M270.42 286.3V279.78M271.46 286.3V279.78M272.5 286.3V279.78M273.54 286.3V278.28M274.58 286.3V279.78M275.61 286.3V279.78M276.65 286.3V279.78M277.69 286.3V279.78M278.73 286.3V272.26M279.77 286.3V257.22M280.81 286.3V242.18M281.85 286.3V240.68M282.89 286.3V242.18M283.93 286.3V257.22M284.97 286.3V272.26M286.01 286.3V279.78M287.05 286.3V279.78M288.09 286.3V279.78M289.12 286.3V279.78M290.16 286.3V278.28M291.2 286.3V279.78M292.24 286.3V279.78M293.28 286.3V279.78M294.32 286.3V279.78M295.36 286.3V279.78M296.4 286.3V279.78M297.44 286.3V279.78M298.48 286.3V278.28M299.52 286.3V279.78M300.56 286.3V279.78M301.6 286.3V279.78M302.64 286.3V279.78M303.68 286.3V279.78M304.71 286.3V279.78M305.75 286.3V279.78M306.79 286.3V278.28M307.83 286.3V279.78M308.87 286.3V279.78M309.91 286.3V279.78M310.95 286.3V279.78M311.99 286.3V279.78M313.03 286.3V279.78M314.07 286.3V279.78M315.11 286.3V278.28M316.15 286.3V279.78M317.19 286.3V279.78M318.23 286.3V279.78M319.26 286.3V279.78M320.3 286.3V279.78M321.34 286.3V279.78M322.38 286.3V279.78M323.42 286.3V278.28M324.46 286.3V279.78M325.5 286.3V279.78M326.54 286.3V279.78M327.58 286.3V279.78M328.62 286.3V279.78M329.66 286.3V279.78M330.7 286.3V279.78M331.74 286.3V278.28M332.78 286.3V279.78M333.81 286.3V279.78M334.85 286.3V279.78M335.89 286.3V279.78M336.93 286.3V279.78M337.97 286.3V279.78M339.01 286.3V279.78M340.05 286.3V279.78M341.09 286.3V279.78M342.13 286.3V279.78M343.17 286.3V279.78M344.21 286.3V279.78M345.25 286.3V272.26M346.29 286.3V264.74M347.33 286.3V263.24M348.36 286.3V264.74M349.4 286.3V272.26M350.44 286.3V279.78" stroke="#0072BD" stroke-width="0.9" stroke-opacity="0.62" fill="none"/>
<g fill="none" stroke="#0072BD" stroke-width="0.5" stroke-opacity="0.9">
<circle cx="213.26" cy="278.28" r="1.7"/>
<circle cx="214.3" cy="270.76" r="1.7"/>
<circle cx="215.34" cy="263.24" r="1.7"/>
<circle cx="216.38" cy="255.72" r="1.7"/>
<circle cx="217.41" cy="263.24" r="1.7"/>
<circle cx="218.45" cy="270.76" r="1.7"/>
<circle cx="231.96" cy="270.76" r="1.7"/>
<circle cx="240.28" cy="263.24" r="1.7"/>
<circle cx="248.59" cy="255.72" r="1.7"/>
<circle cx="256.91" cy="248.2" r="1.7"/>
<circle cx="265.22" cy="240.68" r="1.7"/>
<circle cx="273.54" cy="233.16" r="1.7"/>
<circle cx="278.73" cy="270.76" r="1.7"/>
<circle cx="279.77" cy="255.72" r="1.7"/>
<circle cx="280.81" cy="240.68" r="1.7"/>
<circle cx="281.85" cy="173" r="1.7"/>
<circle cx="282.89" cy="240.68" r="1.7"/>
<circle cx="283.93" cy="255.72" r="1.7"/>
<circle cx="284.97" cy="270.76" r="1.7"/>
<circle cx="290.16" cy="233.16" r="1.7"/>
<circle cx="298.48" cy="240.68" r="1.7"/>
<circle cx="306.79" cy="248.2" r="1.7"/>
<circle cx="315.11" cy="255.72" r="1.7"/>
<circle cx="323.42" cy="263.24" r="1.7"/>
<circle cx="331.74" cy="270.76" r="1.7"/>
<circle cx="345.25" cy="270.76" r="1.7"/>
<circle cx="346.29" cy="263.24" r="1.7"/>
<circle cx="347.33" cy="255.72" r="1.7"/>
<circle cx="348.36" cy="263.24" r="1.7"/>
<circle cx="349.4" cy="270.76" r="1.7"/>
<circle cx="350.44" cy="278.28" r="1.7"/>
</g>
<g fill="none" stroke="#0072BD" stroke-width="0.7" stroke-opacity="1.0">
<circle cx="219.49" cy="278.28" r="1.4"/>
<circle cx="220.53" cy="278.28" r="1.4"/>
<circle cx="221.57" cy="278.28" r="1.4"/>
<circle cx="222.61" cy="278.28" r="1.4"/>
<circle cx="223.65" cy="278.28" r="1.4"/>
<circle cx="224.69" cy="278.28" r="1.4"/>
<circle cx="225.73" cy="278.28" r="1.4"/>
<circle cx="226.77" cy="278.28" r="1.4"/>
<circle cx="227.81" cy="278.28" r="1.4"/>
<circle cx="228.85" cy="278.28" r="1.4"/>
<circle cx="229.89" cy="278.28" r="1.4"/>
<circle cx="230.93" cy="278.28" r="1.4"/>
<circle cx="233" cy="278.28" r="1.4"/>
<circle cx="234.04" cy="278.28" r="1.4"/>
<circle cx="235.08" cy="278.28" r="1.4"/>
<circle cx="236.12" cy="278.28" r="1.4"/>
<circle cx="237.16" cy="278.28" r="1.4"/>
<circle cx="238.2" cy="278.28" r="1.4"/>
<circle cx="239.24" cy="278.28" r="1.4"/>
<circle cx="241.32" cy="278.28" r="1.4"/>
<circle cx="242.36" cy="278.28" r="1.4"/>
<circle cx="243.4" cy="278.28" r="1.4"/>
<circle cx="244.44" cy="278.28" r="1.4"/>
<circle cx="245.48" cy="278.28" r="1.4"/>
<circle cx="246.51" cy="278.28" r="1.4"/>
<circle cx="247.55" cy="278.28" r="1.4"/>
<circle cx="249.63" cy="278.28" r="1.4"/>
<circle cx="250.67" cy="278.28" r="1.4"/>
<circle cx="251.71" cy="278.28" r="1.4"/>
<circle cx="252.75" cy="278.28" r="1.4"/>
<circle cx="253.79" cy="278.28" r="1.4"/>
<circle cx="254.83" cy="278.28" r="1.4"/>
<circle cx="255.87" cy="278.28" r="1.4"/>
<circle cx="257.95" cy="278.28" r="1.4"/>
<circle cx="258.99" cy="278.28" r="1.4"/>
<circle cx="260.03" cy="278.28" r="1.4"/>
<circle cx="261.06" cy="278.28" r="1.4"/>
<circle cx="262.1" cy="278.28" r="1.4"/>
<circle cx="263.14" cy="278.28" r="1.4"/>
<circle cx="264.18" cy="278.28" r="1.4"/>
<circle cx="266.26" cy="278.28" r="1.4"/>
<circle cx="267.3" cy="278.28" r="1.4"/>
<circle cx="268.34" cy="278.28" r="1.4"/>
<circle cx="269.38" cy="278.28" r="1.4"/>
<circle cx="270.42" cy="278.28" r="1.4"/>
<circle cx="271.46" cy="278.28" r="1.4"/>
<circle cx="272.5" cy="278.28" r="1.4"/>
<circle cx="274.58" cy="278.28" r="1.4"/>
<circle cx="275.61" cy="278.28" r="1.4"/>
<circle cx="276.65" cy="278.28" r="1.4"/>
<circle cx="277.69" cy="278.28" r="1.4"/>
<circle cx="286.01" cy="278.28" r="1.4"/>
<circle cx="287.05" cy="278.28" r="1.4"/>
<circle cx="288.09" cy="278.28" r="1.4"/>
<circle cx="289.12" cy="278.28" r="1.4"/>
<circle cx="291.2" cy="278.28" r="1.4"/>
<circle cx="292.24" cy="278.28" r="1.4"/>
<circle cx="293.28" cy="278.28" r="1.4"/>
<circle cx="294.32" cy="278.28" r="1.4"/>
<circle cx="295.36" cy="278.28" r="1.4"/>
<circle cx="296.4" cy="278.28" r="1.4"/>
<circle cx="297.44" cy="278.28" r="1.4"/>
<circle cx="299.52" cy="278.28" r="1.4"/>
<circle cx="300.56" cy="278.28" r="1.4"/>
<circle cx="301.6" cy="278.28" r="1.4"/>
<circle cx="302.64" cy="278.28" r="1.4"/>
<circle cx="303.68" cy="278.28" r="1.4"/>
<circle cx="304.71" cy="278.28" r="1.4"/>
<circle cx="305.75" cy="278.28" r="1.4"/>
<circle cx="307.83" cy="278.28" r="1.4"/>
<circle cx="308.87" cy="278.28" r="1.4"/>
<circle cx="309.91" cy="278.28" r="1.4"/>
<circle cx="310.95" cy="278.28" r="1.4"/>
<circle cx="311.99" cy="278.28" r="1.4"/>
<circle cx="313.03" cy="278.28" r="1.4"/>
<circle cx="314.07" cy="278.28" r="1.4"/>
<circle cx="316.15" cy="278.28" r="1.4"/>
<circle cx="317.19" cy="278.28" r="1.4"/>
<circle cx="318.23" cy="278.28" r="1.4"/>
<circle cx="319.26" cy="278.28" r="1.4"/>
<circle cx="320.3" cy="278.28" r="1.4"/>
<circle cx="321.34" cy="278.28" r="1.4"/>
<circle cx="322.38" cy="278.28" r="1.4"/>
<circle cx="324.46" cy="278.28" r="1.4"/>
<circle cx="325.5" cy="278.28" r="1.4"/>
<circle cx="326.54" cy="278.28" r="1.4"/>
<circle cx="327.58" cy="278.28" r="1.4"/>
<circle cx="328.62" cy="278.28" r="1.4"/>
<circle cx="329.66" cy="278.28" r="1.4"/>
<circle cx="330.7" cy="278.28" r="1.4"/>
<circle cx="332.78" cy="278.28" r="1.4"/>
<circle cx="333.81" cy="278.28" r="1.4"/>
<circle cx="334.85" cy="278.28" r="1.4"/>
<circle cx="335.89" cy="278.28" r="1.4"/>
<circle cx="336.93" cy="278.28" r="1.4"/>
<circle cx="337.97" cy="278.28" r="1.4"/>
<circle cx="339.01" cy="278.28" r="1.4"/>
<circle cx="340.05" cy="278.28" r="1.4"/>
<circle cx="341.09" cy="278.28" r="1.4"/>
<circle cx="342.13" cy="278.28" r="1.4"/>
<circle cx="343.17" cy="278.28" r="1.4"/>
<circle cx="344.21" cy="278.28" r="1.4"/>
</g>
<text class="l" x="281.85" y="301.6" text-anchor="middle">DCA location u</text>
<text class="l" transform="translate(197.9 229.4) rotate(-90)" text-anchor="middle">w(u)</text>
<text class="c" x="278.6" y="316.15" text-anchor="middle">(<tspan>e</tspan>)</text>
</g>
<g id="plot-f">
<rect x="396.6" y="173" width="145" height="112.8" fill="none" stroke="#7a7a7a" stroke-width="0.8"/>
<text class="t" x="396.6" y="293.4" text-anchor="middle">-80</text>
<text class="t" x="414.73" y="293.4" text-anchor="middle">-60</text>
<text class="t" x="432.85" y="293.4" text-anchor="middle">-40</text>
<text class="t" x="450.98" y="293.4" text-anchor="middle">-20</text>
<text class="t" x="469.1" y="293.4" text-anchor="middle">0</text>
<text class="t" x="487.23" y="293.4" text-anchor="middle">20</text>
<text class="t" x="505.35" y="293.4" text-anchor="middle">40</text>
<text class="t" x="523.48" y="293.4" text-anchor="middle">60</text>
<text class="t" x="541.6" y="293.4" text-anchor="middle">80</text>
<text class="t" x="394.6" y="287.9" text-anchor="end">0</text>
<text class="t" x="394.6" y="250.3" text-anchor="end">5</text>
<text class="t" x="394.6" y="212.7" text-anchor="end">10</text>
<text class="t" x="394.6" y="175.1" text-anchor="end">15</text>
<path d="M396.6 285.8v-1.3M396.6 173v1.3M414.73 285.8v-1.3M414.73 173v1.3M432.85 285.8v-1.3M432.85 173v1.3M450.98 285.8v-1.3M450.98 173v1.3M469.1 285.8v-1.3M469.1 173v1.3M487.23 285.8v-1.3M487.23 173v1.3M505.35 285.8v-1.3M505.35 173v1.3M523.48 285.8v-1.3M523.48 173v1.3M541.6 285.8v-1.3M541.6 173v1.3M396.6 285.8h1.3M541.6 285.8h-1.3M396.6 248.2h1.3M541.6 248.2h-1.3M396.6 210.6h1.3M541.6 210.6h-1.3M396.6 173h1.3M541.6 173h-1.3" stroke="#7a7a7a" stroke-width="0.8" fill="none"/>
<rect x="402.74" y="284.4" width="132.71" height="1.9" fill="#fff"/>
<path d="M410.19 278.28V272.26M412.01 278.28V272.26M425.6 278.28V272.26M432.85 278.28V264.74M440.1 278.28V257.22M447.35 278.28V249.7M454.6 278.28V242.18M461.85 263.24V234.66M464.57 270.76V264.74M467.29 278.28V257.22M469.1 278.28V174.5M470.91 278.28V257.22M473.63 270.76V264.74M476.35 263.24V234.66M483.6 278.28V242.18M490.85 278.28V249.7M498.1 278.28V257.22M505.35 278.28V264.74M512.6 278.28V272.26M526.19 278.28V272.26M528.01 278.28V272.26" stroke="#0072BD" stroke-width="0.8" stroke-opacity="0.55" fill="none"/>
<path d="M402.94 286.3V279.78M403.85 286.3V279.78M404.76 286.3V279.78M405.66 286.3V279.78M406.57 286.3V279.78M407.48 286.3V279.78M408.38 286.3V279.78M409.29 286.3V279.78M410.19 286.3V278.28M411.1 286.3V279.78M412.01 286.3V278.28M412.91 286.3V279.78M413.82 286.3V279.78M414.73 286.3V279.78M415.63 286.3V279.78M416.54 286.3V279.78M417.44 286.3V279.78M418.35 286.3V279.78M419.26 286.3V279.78M420.16 286.3V279.78M421.07 286.3V279.78M421.98 286.3V279.78M422.88 286.3V279.78M423.79 286.3V279.78M424.69 286.3V279.78M425.6 286.3V278.28M426.51 286.3V279.78M427.41 286.3V279.78M428.32 286.3V279.78M429.23 286.3V279.78M430.13 286.3V279.78M431.04 286.3V279.78M431.94 286.3V279.78M432.85 286.3V278.28M433.76 286.3V279.78M434.66 286.3V279.78M435.57 286.3V279.78M436.48 286.3V279.78M437.38 286.3V279.78M438.29 286.3V279.78M439.19 286.3V279.78M440.1 286.3V278.28M441.01 286.3V279.78M441.91 286.3V279.78M442.82 286.3V279.78M443.73 286.3V279.78M444.63 286.3V279.78M445.54 286.3V279.78M446.44 286.3V279.78M447.35 286.3V278.28M448.26 286.3V279.78M449.16 286.3V279.78M450.07 286.3V279.78M450.98 286.3V279.78M451.88 286.3V279.78M452.79 286.3V279.78M453.69 286.3V279.78M454.6 286.3V278.28M455.51 286.3V279.78M456.41 286.3V279.78M457.32 286.3V279.78M458.23 286.3V279.78M459.13 286.3V279.78M460.04 286.3V279.78M460.94 286.3V272.26M461.85 286.3V263.24M462.76 286.3V264.74M463.66 286.3V279.78M464.57 286.3V270.76M465.48 286.3V272.26M466.38 286.3V279.78M467.29 286.3V278.28M468.19 286.3V279.78M469.1 286.3V278.28M470.01 286.3V279.78M470.91 286.3V278.28M471.82 286.3V279.78M472.73 286.3V272.26M473.63 286.3V270.76M474.54 286.3V279.78M475.44 286.3V264.74M476.35 286.3V263.24M477.26 286.3V272.26M478.16 286.3V279.78M479.07 286.3V279.78M479.98 286.3V279.78M480.88 286.3V279.78M481.79 286.3V279.78M482.69 286.3V279.78M483.6 286.3V278.28M484.51 286.3V279.78M485.41 286.3V279.78M486.32 286.3V279.78M487.23 286.3V279.78M488.13 286.3V279.78M489.04 286.3V279.78M489.94 286.3V279.78M490.85 286.3V278.28M491.76 286.3V279.78M492.66 286.3V279.78M493.57 286.3V279.78M494.48 286.3V279.78M495.38 286.3V279.78M496.29 286.3V279.78M497.19 286.3V279.78M498.1 286.3V278.28M499.01 286.3V279.78M499.91 286.3V279.78M500.82 286.3V279.78M501.73 286.3V279.78M502.63 286.3V279.78M503.54 286.3V279.78M504.44 286.3V279.78M505.35 286.3V278.28M506.26 286.3V279.78M507.16 286.3V279.78M508.07 286.3V279.78M508.98 286.3V279.78M509.88 286.3V279.78M510.79 286.3V279.78M511.69 286.3V279.78M512.6 286.3V278.28M513.51 286.3V279.78M514.41 286.3V279.78M515.32 286.3V279.78M516.23 286.3V279.78M517.13 286.3V279.78M518.04 286.3V279.78M518.94 286.3V279.78M519.85 286.3V279.78M520.76 286.3V279.78M521.66 286.3V279.78M522.57 286.3V279.78M523.48 286.3V279.78M524.38 286.3V279.78M525.29 286.3V279.78M526.19 286.3V278.28M527.1 286.3V279.78M528.01 286.3V278.28M528.91 286.3V279.78M529.82 286.3V279.78M530.73 286.3V279.78M531.63 286.3V279.78M532.54 286.3V279.78M533.44 286.3V279.78M534.35 286.3V279.78M535.26 286.3V279.78" stroke="#0072BD" stroke-width="0.9" stroke-opacity="0.62" fill="none"/>
<g fill="none" stroke="#0072BD" stroke-width="0.5" stroke-opacity="0.9">
<circle cx="410.19" cy="270.76" r="1.7"/>
<circle cx="411.1" cy="278.28" r="1.7"/>
<circle cx="412.01" cy="270.76" r="1.7"/>
<circle cx="425.6" cy="270.76" r="1.7"/>
<circle cx="432.85" cy="263.24" r="1.7"/>
<circle cx="440.1" cy="255.72" r="1.7"/>
<circle cx="447.35" cy="248.2" r="1.7"/>
<circle cx="454.6" cy="240.68" r="1.7"/>
<circle cx="460.94" cy="270.76" r="1.7"/>
<circle cx="461.85" cy="233.16" r="1.7"/>
<circle cx="462.76" cy="263.24" r="1.7"/>
<circle cx="463.66" cy="278.28" r="1.7"/>
<circle cx="464.57" cy="263.24" r="1.7"/>
<circle cx="465.48" cy="270.76" r="1.7"/>
<circle cx="466.38" cy="278.28" r="1.7"/>
<circle cx="467.29" cy="255.72" r="1.7"/>
<circle cx="468.19" cy="278.28" r="1.7"/>
<circle cx="469.1" cy="173" r="1.7"/>
<circle cx="470.01" cy="278.28" r="1.7"/>
<circle cx="470.91" cy="255.72" r="1.7"/>
<circle cx="471.82" cy="278.28" r="1.7"/>
<circle cx="472.73" cy="270.76" r="1.7"/>
<circle cx="473.63" cy="263.24" r="1.7"/>
<circle cx="474.54" cy="278.28" r="1.7"/>
<circle cx="475.44" cy="263.24" r="1.7"/>
<circle cx="476.35" cy="233.16" r="1.7"/>
<circle cx="477.26" cy="270.76" r="1.7"/>
<circle cx="483.6" cy="240.68" r="1.7"/>
<circle cx="490.85" cy="248.2" r="1.7"/>
<circle cx="498.1" cy="255.72" r="1.7"/>
<circle cx="505.35" cy="263.24" r="1.7"/>
<circle cx="512.6" cy="270.76" r="1.7"/>
<circle cx="526.19" cy="270.76" r="1.7"/>
<circle cx="527.1" cy="278.28" r="1.7"/>
<circle cx="528.01" cy="270.76" r="1.7"/>
</g>
<g fill="none" stroke="#0072BD" stroke-width="0.7" stroke-opacity="1.0">
<circle cx="402.94" cy="278.28" r="1.4"/>
<circle cx="403.85" cy="278.28" r="1.4"/>
<circle cx="404.76" cy="278.28" r="1.4"/>
<circle cx="405.66" cy="278.28" r="1.4"/>
<circle cx="406.57" cy="278.28" r="1.4"/>
<circle cx="407.48" cy="278.28" r="1.4"/>
<circle cx="408.38" cy="278.28" r="1.4"/>
<circle cx="409.29" cy="278.28" r="1.4"/>
<circle cx="412.91" cy="278.28" r="1.4"/>
<circle cx="413.82" cy="278.28" r="1.4"/>
<circle cx="414.73" cy="278.28" r="1.4"/>
<circle cx="415.63" cy="278.28" r="1.4"/>
<circle cx="416.54" cy="278.28" r="1.4"/>
<circle cx="417.44" cy="278.28" r="1.4"/>
<circle cx="418.35" cy="278.28" r="1.4"/>
<circle cx="419.26" cy="278.28" r="1.4"/>
<circle cx="420.16" cy="278.28" r="1.4"/>
<circle cx="421.07" cy="278.28" r="1.4"/>
<circle cx="421.98" cy="278.28" r="1.4"/>
<circle cx="422.88" cy="278.28" r="1.4"/>
<circle cx="423.79" cy="278.28" r="1.4"/>
<circle cx="424.69" cy="278.28" r="1.4"/>
<circle cx="426.51" cy="278.28" r="1.4"/>
<circle cx="427.41" cy="278.28" r="1.4"/>
<circle cx="428.32" cy="278.28" r="1.4"/>
<circle cx="429.23" cy="278.28" r="1.4"/>
<circle cx="430.13" cy="278.28" r="1.4"/>
<circle cx="431.04" cy="278.28" r="1.4"/>
<circle cx="431.94" cy="278.28" r="1.4"/>
<circle cx="433.76" cy="278.28" r="1.4"/>
<circle cx="434.66" cy="278.28" r="1.4"/>
<circle cx="435.57" cy="278.28" r="1.4"/>
<circle cx="436.48" cy="278.28" r="1.4"/>
<circle cx="437.38" cy="278.28" r="1.4"/>
<circle cx="438.29" cy="278.28" r="1.4"/>
<circle cx="439.19" cy="278.28" r="1.4"/>
<circle cx="441.01" cy="278.28" r="1.4"/>
<circle cx="441.91" cy="278.28" r="1.4"/>
<circle cx="442.82" cy="278.28" r="1.4"/>
<circle cx="443.73" cy="278.28" r="1.4"/>
<circle cx="444.63" cy="278.28" r="1.4"/>
<circle cx="445.54" cy="278.28" r="1.4"/>
<circle cx="446.44" cy="278.28" r="1.4"/>
<circle cx="448.26" cy="278.28" r="1.4"/>
<circle cx="449.16" cy="278.28" r="1.4"/>
<circle cx="450.07" cy="278.28" r="1.4"/>
<circle cx="450.98" cy="278.28" r="1.4"/>
<circle cx="451.88" cy="278.28" r="1.4"/>
<circle cx="452.79" cy="278.28" r="1.4"/>
<circle cx="453.69" cy="278.28" r="1.4"/>
<circle cx="455.51" cy="278.28" r="1.4"/>
<circle cx="456.41" cy="278.28" r="1.4"/>
<circle cx="457.32" cy="278.28" r="1.4"/>
<circle cx="458.23" cy="278.28" r="1.4"/>
<circle cx="459.13" cy="278.28" r="1.4"/>
<circle cx="460.04" cy="278.28" r="1.4"/>
<circle cx="478.16" cy="278.28" r="1.4"/>
<circle cx="479.07" cy="278.28" r="1.4"/>
<circle cx="479.98" cy="278.28" r="1.4"/>
<circle cx="480.88" cy="278.28" r="1.4"/>
<circle cx="481.79" cy="278.28" r="1.4"/>
<circle cx="482.69" cy="278.28" r="1.4"/>
<circle cx="484.51" cy="278.28" r="1.4"/>
<circle cx="485.41" cy="278.28" r="1.4"/>
<circle cx="486.32" cy="278.28" r="1.4"/>
<circle cx="487.23" cy="278.28" r="1.4"/>
<circle cx="488.13" cy="278.28" r="1.4"/>
<circle cx="489.04" cy="278.28" r="1.4"/>
<circle cx="489.94" cy="278.28" r="1.4"/>
<circle cx="491.76" cy="278.28" r="1.4"/>
<circle cx="492.66" cy="278.28" r="1.4"/>
<circle cx="493.57" cy="278.28" r="1.4"/>
<circle cx="494.48" cy="278.28" r="1.4"/>
<circle cx="495.38" cy="278.28" r="1.4"/>
<circle cx="496.29" cy="278.28" r="1.4"/>
<circle cx="497.19" cy="278.28" r="1.4"/>
<circle cx="499.01" cy="278.28" r="1.4"/>
<circle cx="499.91" cy="278.28" r="1.4"/>
<circle cx="500.82" cy="278.28" r="1.4"/>
<circle cx="501.73" cy="278.28" r="1.4"/>
<circle cx="502.63" cy="278.28" r="1.4"/>
<circle cx="503.54" cy="278.28" r="1.4"/>
<circle cx="504.44" cy="278.28" r="1.4"/>
<circle cx="506.26" cy="278.28" r="1.4"/>
<circle cx="507.16" cy="278.28" r="1.4"/>
<circle cx="508.07" cy="278.28" r="1.4"/>
<circle cx="508.98" cy="278.28" r="1.4"/>
<circle cx="509.88" cy="278.28" r="1.4"/>
<circle cx="510.79" cy="278.28" r="1.4"/>
<circle cx="511.69" cy="278.28" r="1.4"/>
<circle cx="513.51" cy="278.28" r="1.4"/>
<circle cx="514.41" cy="278.28" r="1.4"/>
<circle cx="515.32" cy="278.28" r="1.4"/>
<circle cx="516.23" cy="278.28" r="1.4"/>
<circle cx="517.13" cy="278.28" r="1.4"/>
<circle cx="518.04" cy="278.28" r="1.4"/>
<circle cx="518.94" cy="278.28" r="1.4"/>
<circle cx="519.85" cy="278.28" r="1.4"/>
<circle cx="520.76" cy="278.28" r="1.4"/>
<circle cx="521.66" cy="278.28" r="1.4"/>
<circle cx="522.57" cy="278.28" r="1.4"/>
<circle cx="523.48" cy="278.28" r="1.4"/>
<circle cx="524.38" cy="278.28" r="1.4"/>
<circle cx="525.29" cy="278.28" r="1.4"/>
<circle cx="528.91" cy="278.28" r="1.4"/>
<circle cx="529.82" cy="278.28" r="1.4"/>
<circle cx="530.73" cy="278.28" r="1.4"/>
<circle cx="531.63" cy="278.28" r="1.4"/>
<circle cx="532.54" cy="278.28" r="1.4"/>
<circle cx="533.44" cy="278.28" r="1.4"/>
<circle cx="534.35" cy="278.28" r="1.4"/>
<circle cx="535.26" cy="278.28" r="1.4"/>
</g>
<text class="l" x="469.1" y="301.6" text-anchor="middle">DCA location u</text>
<text class="l" transform="translate(385.4 229.4) rotate(-90)" text-anchor="middle">w(u)</text>
<text class="c" x="466.05" y="316.15" text-anchor="middle">(<tspan>f</tspan>)</text>
</g>
<g id="plot-g">
<rect x="21.7" y="338.85" width="145.6" height="112.8" fill="none" stroke="#7a7a7a" stroke-width="0.8"/>
<text class="t" x="21.7" y="459.25" text-anchor="middle">-80</text>
<text class="t" x="39.9" y="459.25" text-anchor="middle">-60</text>
<text class="t" x="58.1" y="459.25" text-anchor="middle">-40</text>
<text class="t" x="76.3" y="459.25" text-anchor="middle">-20</text>
<text class="t" x="94.5" y="459.25" text-anchor="middle">0</text>
<text class="t" x="112.7" y="459.25" text-anchor="middle">20</text>
<text class="t" x="130.9" y="459.25" text-anchor="middle">40</text>
<text class="t" x="149.1" y="459.25" text-anchor="middle">60</text>
<text class="t" x="167.3" y="459.25" text-anchor="middle">80</text>
<text class="t" x="19.7" y="453.75" text-anchor="end">0</text>
<text class="t" x="19.7" y="416.15" text-anchor="end">5</text>
<text class="t" x="19.7" y="378.55" text-anchor="end">10</text>
<text class="t" x="19.7" y="340.95" text-anchor="end">15</text>
<path d="M21.7 451.65v-1.3M21.7 338.85v1.3M39.9 451.65v-1.3M39.9 338.85v1.3M58.1 451.65v-1.3M58.1 338.85v1.3M76.3 451.65v-1.3M76.3 338.85v1.3M94.5 451.65v-1.3M94.5 338.85v1.3M112.7 451.65v-1.3M112.7 338.85v1.3M130.9 451.65v-1.3M130.9 338.85v1.3M149.1 451.65v-1.3M149.1 338.85v1.3M167.3 451.65v-1.3M167.3 338.85v1.3M21.7 451.65h1.3M167.3 451.65h-1.3M21.7 414.05h1.3M167.3 414.05h-1.3M21.7 376.45h1.3M167.3 376.45h-1.3M21.7 338.85h1.3M167.3 338.85h-1.3" stroke="#7a7a7a" stroke-width="0.8" fill="none"/>
<rect x="22.41" y="450.25" width="144.18" height="1.9" fill="#fff"/>
<path d="M24.43 436.61V430.59M31.71 444.13V438.11M64.47 444.13V438.11M74.48 444.13V430.59M84.49 436.61V423.07M87.22 444.13V438.11M94.5 421.57V340.35M101.78 444.13V438.11M104.51 436.61V423.07M114.52 444.13V430.59M124.53 444.13V438.11M157.29 444.13V438.11M164.57 436.61V430.59" stroke="#0072BD" stroke-width="0.8" stroke-opacity="0.55" fill="none"/>
<path d="M22.61 452.15V445.63M23.52 452.15V438.11M24.43 452.15V436.61M25.34 452.15V438.11M26.25 452.15V445.63M27.16 452.15V445.63M28.07 452.15V445.63M28.98 452.15V445.63M29.89 452.15V445.63M30.8 452.15V445.63M31.71 452.15V444.13M32.62 452.15V445.63M33.53 452.15V445.63M34.44 452.15V445.63M35.35 452.15V445.63M36.26 452.15V438.11M37.17 452.15V438.11M38.08 452.15V445.63M38.99 452.15V445.63M39.9 452.15V445.63M40.81 452.15V445.63M41.72 452.15V445.63M42.63 452.15V445.63M43.54 452.15V445.63M44.45 452.15V445.63M45.36 452.15V445.63M46.27 452.15V445.63M47.18 452.15V445.63M48.09 452.15V445.63M49 452.15V445.63M49.91 452.15V445.63M50.82 452.15V445.63M51.73 452.15V445.63M52.64 452.15V445.63M53.55 452.15V445.63M54.46 452.15V445.63M55.37 452.15V445.63M56.28 452.15V445.63M57.19 452.15V445.63M58.1 452.15V445.63M59.01 452.15V445.63M59.92 452.15V445.63M60.83 452.15V445.63M61.74 452.15V445.63M62.65 452.15V445.63M63.56 452.15V445.63M64.47 452.15V444.13M65.38 452.15V445.63M66.29 452.15V445.63M67.2 452.15V445.63M68.11 452.15V445.63M69.02 452.15V445.63M69.93 452.15V445.63M70.84 452.15V445.63M71.75 452.15V445.63M72.66 452.15V445.63M73.57 452.15V445.63M74.48 452.15V444.13M75.39 452.15V445.63M76.3 452.15V445.63M77.21 452.15V445.63M78.12 452.15V445.63M79.03 452.15V445.63M79.94 452.15V445.63M80.85 452.15V445.63M81.76 452.15V438.11M82.67 452.15V438.11M83.58 452.15V438.11M84.49 452.15V436.61M85.4 452.15V438.11M86.31 452.15V445.63M87.22 452.15V444.13M88.13 452.15V445.63M89.04 452.15V430.59M89.95 452.15V430.59M90.86 452.15V445.63M91.77 452.15V445.63M92.68 452.15V438.11M93.59 452.15V423.07M94.5 452.15V421.57M95.41 452.15V423.07M96.32 452.15V438.11M97.23 452.15V445.63M98.14 452.15V445.63M99.05 452.15V430.59M99.96 452.15V430.59M100.87 452.15V445.63M101.78 452.15V444.13M102.69 452.15V445.63M103.6 452.15V438.11M104.51 452.15V436.61M105.42 452.15V438.11M106.33 452.15V438.11M107.24 452.15V438.11M108.15 452.15V445.63M109.06 452.15V445.63M109.97 452.15V445.63M110.88 452.15V445.63M111.79 452.15V445.63M112.7 452.15V445.63M113.61 452.15V445.63M114.52 452.15V444.13M115.43 452.15V445.63M116.34 452.15V445.63M117.25 452.15V445.63M118.16 452.15V445.63M119.07 452.15V445.63M119.98 452.15V445.63M120.89 452.15V445.63M121.8 452.15V445.63M122.71 452.15V445.63M123.62 452.15V445.63M124.53 452.15V444.13M125.44 452.15V445.63M126.35 452.15V445.63M127.26 452.15V445.63M128.17 452.15V445.63M129.08 452.15V445.63M129.99 452.15V445.63M130.9 452.15V445.63M131.81 452.15V445.63M132.72 452.15V445.63M133.63 452.15V445.63M134.54 452.15V445.63M135.45 452.15V445.63M136.36 452.15V445.63M137.27 452.15V445.63M138.18 452.15V445.63M139.09 452.15V445.63M140 452.15V445.63M140.91 452.15V445.63M141.82 452.15V445.63M142.73 452.15V445.63M143.64 452.15V445.63M144.55 452.15V445.63M145.46 452.15V445.63M146.37 452.15V445.63M147.28 452.15V445.63M148.19 452.15V445.63M149.1 452.15V445.63M150.01 452.15V445.63M150.92 452.15V445.63M151.83 452.15V438.11M152.74 452.15V438.11M153.65 452.15V445.63M154.56 452.15V445.63M155.47 452.15V445.63M156.38 452.15V445.63M157.29 452.15V444.13M158.2 452.15V445.63M159.11 452.15V445.63M160.02 452.15V445.63M160.93 452.15V445.63M161.84 452.15V445.63M162.75 452.15V445.63M163.66 452.15V438.11M164.57 452.15V436.61M165.48 452.15V438.11M166.39 452.15V445.63" stroke="#0072BD" stroke-width="0.9" stroke-opacity="0.62" fill="none"/>
<g fill="none" stroke="#0072BD" stroke-width="0.5" stroke-opacity="0.9">
<circle cx="22.61" cy="444.13" r="1.7"/>
<circle cx="23.52" cy="436.61" r="1.7"/>
<circle cx="24.43" cy="429.09" r="1.7"/>
<circle cx="25.34" cy="436.61" r="1.7"/>
<circle cx="31.71" cy="436.61" r="1.7"/>
<circle cx="36.26" cy="436.61" r="1.7"/>
<circle cx="37.17" cy="436.61" r="1.7"/>
<circle cx="64.47" cy="436.61" r="1.7"/>
<circle cx="74.48" cy="429.09" r="1.7"/>
<circle cx="84.49" cy="421.57" r="1.7"/>
<circle cx="85.4" cy="436.61" r="1.7"/>
<circle cx="86.31" cy="444.13" r="1.7"/>
<circle cx="87.22" cy="436.61" r="1.7"/>
<circle cx="88.13" cy="444.13" r="1.7"/>
<circle cx="89.04" cy="429.09" r="1.7"/>
<circle cx="89.95" cy="429.09" r="1.7"/>
<circle cx="90.86" cy="444.13" r="1.7"/>
<circle cx="91.77" cy="444.13" r="1.7"/>
<circle cx="92.68" cy="436.61" r="1.7"/>
<circle cx="93.59" cy="421.57" r="1.7"/>
<circle cx="94.5" cy="338.85" r="1.7"/>
<circle cx="95.41" cy="421.57" r="1.7"/>
<circle cx="96.32" cy="436.61" r="1.7"/>
<circle cx="97.23" cy="444.13" r="1.7"/>
<circle cx="98.14" cy="444.13" r="1.7"/>
<circle cx="99.05" cy="429.09" r="1.7"/>
<circle cx="99.96" cy="429.09" r="1.7"/>
<circle cx="100.87" cy="444.13" r="1.7"/>
<circle cx="101.78" cy="436.61" r="1.7"/>
<circle cx="102.69" cy="444.13" r="1.7"/>
<circle cx="103.6" cy="436.61" r="1.7"/>
<circle cx="104.51" cy="421.57" r="1.7"/>
<circle cx="114.52" cy="429.09" r="1.7"/>
<circle cx="124.53" cy="436.61" r="1.7"/>
<circle cx="151.83" cy="436.61" r="1.7"/>
<circle cx="152.74" cy="436.61" r="1.7"/>
<circle cx="157.29" cy="436.61" r="1.7"/>
<circle cx="163.66" cy="436.61" r="1.7"/>
<circle cx="164.57" cy="429.09" r="1.7"/>
<circle cx="165.48" cy="436.61" r="1.7"/>
<circle cx="166.39" cy="444.13" r="1.7"/>
</g>
<g fill="none" stroke="#0072BD" stroke-width="0.7" stroke-opacity="1.0">
<circle cx="26.25" cy="444.13" r="1.4"/>
<circle cx="27.16" cy="444.13" r="1.4"/>
<circle cx="28.07" cy="444.13" r="1.4"/>
<circle cx="28.98" cy="444.13" r="1.4"/>
<circle cx="29.89" cy="444.13" r="1.4"/>
<circle cx="30.8" cy="444.13" r="1.4"/>
<circle cx="32.62" cy="444.13" r="1.4"/>
<circle cx="33.53" cy="444.13" r="1.4"/>
<circle cx="34.44" cy="444.13" r="1.4"/>
<circle cx="35.35" cy="444.13" r="1.4"/>
<circle cx="38.08" cy="444.13" r="1.4"/>
<circle cx="38.99" cy="444.13" r="1.4"/>
<circle cx="39.9" cy="444.13" r="1.4"/>
<circle cx="40.81" cy="444.13" r="1.4"/>
<circle cx="41.72" cy="444.13" r="1.4"/>
<circle cx="42.63" cy="444.13" r="1.4"/>
<circle cx="43.54" cy="444.13" r="1.4"/>
<circle cx="44.45" cy="444.13" r="1.4"/>
<circle cx="45.36" cy="444.13" r="1.4"/>
<circle cx="46.27" cy="444.13" r="1.4"/>
<circle cx="47.18" cy="444.13" r="1.4"/>
<circle cx="48.09" cy="444.13" r="1.4"/>
<circle cx="49" cy="444.13" r="1.4"/>
<circle cx="49.91" cy="444.13" r="1.4"/>
<circle cx="50.82" cy="444.13" r="1.4"/>
<circle cx="51.73" cy="444.13" r="1.4"/>
<circle cx="52.64" cy="444.13" r="1.4"/>
<circle cx="53.55" cy="444.13" r="1.4"/>
<circle cx="54.46" cy="444.13" r="1.4"/>
<circle cx="55.37" cy="444.13" r="1.4"/>
<circle cx="56.28" cy="444.13" r="1.4"/>
<circle cx="57.19" cy="444.13" r="1.4"/>
<circle cx="58.1" cy="444.13" r="1.4"/>
<circle cx="59.01" cy="444.13" r="1.4"/>
<circle cx="59.92" cy="444.13" r="1.4"/>
<circle cx="60.83" cy="444.13" r="1.4"/>
<circle cx="61.74" cy="444.13" r="1.4"/>
<circle cx="62.65" cy="444.13" r="1.4"/>
<circle cx="63.56" cy="444.13" r="1.4"/>
<circle cx="65.38" cy="444.13" r="1.4"/>
<circle cx="66.29" cy="444.13" r="1.4"/>
<circle cx="67.2" cy="444.13" r="1.4"/>
<circle cx="68.11" cy="444.13" r="1.4"/>
<circle cx="69.02" cy="444.13" r="1.4"/>
<circle cx="69.93" cy="444.13" r="1.4"/>
<circle cx="70.84" cy="444.13" r="1.4"/>
<circle cx="71.75" cy="444.13" r="1.4"/>
<circle cx="72.66" cy="444.13" r="1.4"/>
<circle cx="73.57" cy="444.13" r="1.4"/>
<circle cx="75.39" cy="444.13" r="1.4"/>
<circle cx="76.3" cy="444.13" r="1.4"/>
<circle cx="77.21" cy="444.13" r="1.4"/>
<circle cx="78.12" cy="444.13" r="1.4"/>
<circle cx="79.03" cy="444.13" r="1.4"/>
<circle cx="79.94" cy="444.13" r="1.4"/>
<circle cx="80.85" cy="444.13" r="1.4"/>
<circle cx="81.76" cy="436.61" r="1.4"/>
<circle cx="82.67" cy="436.61" r="1.4"/>
<circle cx="83.58" cy="436.61" r="1.4"/>
<circle cx="105.42" cy="436.61" r="1.4"/>
<circle cx="106.33" cy="436.61" r="1.4"/>
<circle cx="107.24" cy="436.61" r="1.4"/>
<circle cx="108.15" cy="444.13" r="1.4"/>
<circle cx="109.06" cy="444.13" r="1.4"/>
<circle cx="109.97" cy="444.13" r="1.4"/>
<circle cx="110.88" cy="444.13" r="1.4"/>
<circle cx="111.79" cy="444.13" r="1.4"/>
<circle cx="112.7" cy="444.13" r="1.4"/>
<circle cx="113.61" cy="444.13" r="1.4"/>
<circle cx="115.43" cy="444.13" r="1.4"/>
<circle cx="116.34" cy="444.13" r="1.4"/>
<circle cx="117.25" cy="444.13" r="1.4"/>
<circle cx="118.16" cy="444.13" r="1.4"/>
<circle cx="119.07" cy="444.13" r="1.4"/>
<circle cx="119.98" cy="444.13" r="1.4"/>
<circle cx="120.89" cy="444.13" r="1.4"/>
<circle cx="121.8" cy="444.13" r="1.4"/>
<circle cx="122.71" cy="444.13" r="1.4"/>
<circle cx="123.62" cy="444.13" r="1.4"/>
<circle cx="125.44" cy="444.13" r="1.4"/>
<circle cx="126.35" cy="444.13" r="1.4"/>
<circle cx="127.26" cy="444.13" r="1.4"/>
<circle cx="128.17" cy="444.13" r="1.4"/>
<circle cx="129.08" cy="444.13" r="1.4"/>
<circle cx="129.99" cy="444.13" r="1.4"/>
<circle cx="130.9" cy="444.13" r="1.4"/>
<circle cx="131.81" cy="444.13" r="1.4"/>
<circle cx="132.72" cy="444.13" r="1.4"/>
<circle cx="133.63" cy="444.13" r="1.4"/>
<circle cx="134.54" cy="444.13" r="1.4"/>
<circle cx="135.45" cy="444.13" r="1.4"/>
<circle cx="136.36" cy="444.13" r="1.4"/>
<circle cx="137.27" cy="444.13" r="1.4"/>
<circle cx="138.18" cy="444.13" r="1.4"/>
<circle cx="139.09" cy="444.13" r="1.4"/>
<circle cx="140" cy="444.13" r="1.4"/>
<circle cx="140.91" cy="444.13" r="1.4"/>
<circle cx="141.82" cy="444.13" r="1.4"/>
<circle cx="142.73" cy="444.13" r="1.4"/>
<circle cx="143.64" cy="444.13" r="1.4"/>
<circle cx="144.55" cy="444.13" r="1.4"/>
<circle cx="145.46" cy="444.13" r="1.4"/>
<circle cx="146.37" cy="444.13" r="1.4"/>
<circle cx="147.28" cy="444.13" r="1.4"/>
<circle cx="148.19" cy="444.13" r="1.4"/>
<circle cx="149.1" cy="444.13" r="1.4"/>
<circle cx="150.01" cy="444.13" r="1.4"/>
<circle cx="150.92" cy="444.13" r="1.4"/>
<circle cx="153.65" cy="444.13" r="1.4"/>
<circle cx="154.56" cy="444.13" r="1.4"/>
<circle cx="155.47" cy="444.13" r="1.4"/>
<circle cx="156.38" cy="444.13" r="1.4"/>
<circle cx="158.2" cy="444.13" r="1.4"/>
<circle cx="159.11" cy="444.13" r="1.4"/>
<circle cx="160.02" cy="444.13" r="1.4"/>
<circle cx="160.93" cy="444.13" r="1.4"/>
<circle cx="161.84" cy="444.13" r="1.4"/>
<circle cx="162.75" cy="444.13" r="1.4"/>
</g>
<text class="l" x="94.5" y="467.45" text-anchor="middle">DCA location u</text>
<text class="l" transform="translate(10.5 395.25) rotate(-90)" text-anchor="middle">w(u)</text>
<text class="c" x="91.4" y="482" text-anchor="middle">(<tspan>g</tspan>)</text>
</g>
<g id="plot-h">
<rect x="209.1" y="338.85" width="145.5" height="112.8" fill="none" stroke="#7a7a7a" stroke-width="0.8"/>
<text class="t" x="219.49" y="459.25" text-anchor="middle">-60</text>
<text class="t" x="240.28" y="459.25" text-anchor="middle">-40</text>
<text class="t" x="261.06" y="459.25" text-anchor="middle">-20</text>
<text class="t" x="281.85" y="459.25" text-anchor="middle">0</text>
<text class="t" x="302.64" y="459.25" text-anchor="middle">20</text>
<text class="t" x="323.42" y="459.25" text-anchor="middle">40</text>
<text class="t" x="344.21" y="459.25" text-anchor="middle">60</text>
<text class="t" x="207.1" y="453.75" text-anchor="end">0</text>
<text class="t" x="207.1" y="416.15" text-anchor="end">5</text>
<text class="t" x="207.1" y="378.55" text-anchor="end">10</text>
<text class="t" x="207.1" y="340.95" text-anchor="end">15</text>
<path d="M219.49 451.65v-1.3M219.49 338.85v1.3M240.28 451.65v-1.3M240.28 338.85v1.3M261.06 451.65v-1.3M261.06 338.85v1.3M281.85 451.65v-1.3M281.85 338.85v1.3M302.64 451.65v-1.3M302.64 338.85v1.3M323.42 451.65v-1.3M323.42 338.85v1.3M344.21 451.65v-1.3M344.21 338.85v1.3M209.1 451.65h1.3M354.6 451.65h-1.3M209.1 414.05h1.3M354.6 414.05h-1.3M209.1 376.45h1.3M354.6 376.45h-1.3M209.1 338.85h1.3M354.6 338.85h-1.3" stroke="#7a7a7a" stroke-width="0.8" fill="none"/>
<rect x="213.06" y="450.25" width="137.59" height="1.9" fill="#fff"/>
<path d="M220.53 436.61V430.59M226.77 444.13V438.11M231.96 444.13V438.11M240.28 444.13V430.59M248.59 444.13V423.07M256.91 444.13V415.55M265.22 444.13V408.03M273.54 436.61V400.51M275.61 436.61V430.59M277.69 436.61V430.59M281.85 421.57V340.35M286.01 436.61V430.59M288.09 436.61V430.59M290.16 436.61V400.51M298.48 444.13V408.03M306.79 444.13V415.55M315.11 444.13V423.07M323.42 444.13V430.59M331.74 444.13V438.11M336.93 444.13V438.11M343.17 436.61V430.59" stroke="#0072BD" stroke-width="0.8" stroke-opacity="0.55" fill="none"/>
<path d="M213.26 452.15V445.63M214.3 452.15V438.11M215.34 452.15V438.11M216.38 452.15V438.11M217.41 452.15V445.63M218.45 452.15V445.63M219.49 452.15V445.63M220.53 452.15V436.61M221.57 452.15V438.11M222.61 452.15V438.11M223.65 452.15V445.63M224.69 452.15V445.63M225.73 452.15V445.63M226.77 452.15V444.13M227.81 452.15V445.63M228.85 452.15V445.63M229.89 452.15V445.63M230.93 452.15V445.63M231.96 452.15V444.13M233 452.15V445.63M234.04 452.15V445.63M235.08 452.15V445.63M236.12 452.15V445.63M237.16 452.15V445.63M238.2 452.15V445.63M239.24 452.15V445.63M240.28 452.15V444.13M241.32 452.15V445.63M242.36 452.15V445.63M243.4 452.15V445.63M244.44 452.15V445.63M245.48 452.15V445.63M246.51 452.15V445.63M247.55 452.15V445.63M248.59 452.15V444.13M249.63 452.15V445.63M250.67 452.15V445.63M251.71 452.15V445.63M252.75 452.15V445.63M253.79 452.15V445.63M254.83 452.15V445.63M255.87 452.15V445.63M256.91 452.15V444.13M257.95 452.15V445.63M258.99 452.15V445.63M260.03 452.15V445.63M261.06 452.15V445.63M262.1 452.15V445.63M263.14 452.15V445.63M264.18 452.15V445.63M265.22 452.15V444.13M266.26 452.15V445.63M267.3 452.15V445.63M268.34 452.15V445.63M269.38 452.15V445.63M270.42 452.15V445.63M271.46 452.15V445.63M272.5 452.15V445.63M273.54 452.15V436.61M274.58 452.15V438.11M275.61 452.15V436.61M276.65 452.15V438.11M277.69 452.15V436.61M278.73 452.15V445.63M279.77 452.15V438.11M280.81 452.15V423.07M281.85 452.15V421.57M282.89 452.15V423.07M283.93 452.15V438.11M284.97 452.15V445.63M286.01 452.15V436.61M287.05 452.15V438.11M288.09 452.15V436.61M289.12 452.15V438.11M290.16 452.15V436.61M291.2 452.15V445.63M292.24 452.15V445.63M293.28 452.15V445.63M294.32 452.15V445.63M295.36 452.15V445.63M296.4 452.15V445.63M297.44 452.15V445.63M298.48 452.15V444.13M299.52 452.15V445.63M300.56 452.15V445.63M301.6 452.15V445.63M302.64 452.15V445.63M303.68 452.15V445.63M304.71 452.15V445.63M305.75 452.15V445.63M306.79 452.15V444.13M307.83 452.15V445.63M308.87 452.15V445.63M309.91 452.15V445.63M310.95 452.15V445.63M311.99 452.15V445.63M313.03 452.15V445.63M314.07 452.15V445.63M315.11 452.15V444.13M316.15 452.15V445.63M317.19 452.15V445.63M318.23 452.15V445.63M319.26 452.15V445.63M320.3 452.15V445.63M321.34 452.15V445.63M322.38 452.15V445.63M323.42 452.15V444.13M324.46 452.15V445.63M325.5 452.15V445.63M326.54 452.15V445.63M327.58 452.15V445.63M328.62 452.15V445.63M329.66 452.15V445.63M330.7 452.15V445.63M331.74 452.15V444.13M332.78 452.15V445.63M333.81 452.15V445.63M334.85 452.15V445.63M335.89 452.15V445.63M336.93 452.15V444.13M337.97 452.15V445.63M339.01 452.15V445.63M340.05 452.15V445.63M341.09 452.15V438.11M342.13 452.15V438.11M343.17 452.15V436.61M344.21 452.15V445.63M345.25 452.15V445.63M346.29 452.15V445.63M347.33 452.15V438.11M348.36 452.15V438.11M349.4 452.15V438.11M350.44 452.15V445.63" stroke="#0072BD" stroke-width="0.9" stroke-opacity="0.62" fill="none"/>
<g fill="none" stroke="#0072BD" stroke-width="0.5" stroke-opacity="0.9">
<circle cx="213.26" cy="444.13" r="1.7"/>
<circle cx="220.53" cy="429.09" r="1.7"/>
<circle cx="221.57" cy="436.61" r="1.7"/>
<circle cx="222.61" cy="436.61" r="1.7"/>
<circle cx="226.77" cy="436.61" r="1.7"/>
<circle cx="231.96" cy="436.61" r="1.7"/>
<circle cx="240.28" cy="429.09" r="1.7"/>
<circle cx="248.59" cy="421.57" r="1.7"/>
<circle cx="256.91" cy="414.05" r="1.7"/>
<circle cx="265.22" cy="406.53" r="1.7"/>
<circle cx="273.54" cy="399.01" r="1.7"/>
<circle cx="274.58" cy="436.61" r="1.7"/>
<circle cx="275.61" cy="429.09" r="1.7"/>
<circle cx="276.65" cy="436.61" r="1.7"/>
<circle cx="277.69" cy="429.09" r="1.7"/>
<circle cx="278.73" cy="444.13" r="1.7"/>
<circle cx="279.77" cy="436.61" r="1.7"/>
<circle cx="280.81" cy="421.57" r="1.7"/>
<circle cx="281.85" cy="338.85" r="1.7"/>
<circle cx="282.89" cy="421.57" r="1.7"/>
<circle cx="283.93" cy="436.61" r="1.7"/>
<circle cx="284.97" cy="444.13" r="1.7"/>
<circle cx="286.01" cy="429.09" r="1.7"/>
<circle cx="287.05" cy="436.61" r="1.7"/>
<circle cx="288.09" cy="429.09" r="1.7"/>
<circle cx="289.12" cy="436.61" r="1.7"/>
<circle cx="290.16" cy="399.01" r="1.7"/>
<circle cx="298.48" cy="406.53" r="1.7"/>
<circle cx="306.79" cy="414.05" r="1.7"/>
<circle cx="315.11" cy="421.57" r="1.7"/>
<circle cx="323.42" cy="429.09" r="1.7"/>
<circle cx="331.74" cy="436.61" r="1.7"/>
<circle cx="336.93" cy="436.61" r="1.7"/>
<circle cx="341.09" cy="436.61" r="1.7"/>
<circle cx="342.13" cy="436.61" r="1.7"/>
<circle cx="343.17" cy="429.09" r="1.7"/>
<circle cx="350.44" cy="444.13" r="1.7"/>
</g>
<g fill="none" stroke="#0072BD" stroke-width="0.7" stroke-opacity="1.0">
<circle cx="214.3" cy="436.61" r="1.4"/>
<circle cx="215.34" cy="436.61" r="1.4"/>
<circle cx="216.38" cy="436.61" r="1.4"/>
<circle cx="217.41" cy="444.13" r="1.4"/>
<circle cx="218.45" cy="444.13" r="1.4"/>
<circle cx="219.49" cy="444.13" r="1.4"/>
<circle cx="223.65" cy="444.13" r="1.4"/>
<circle cx="224.69" cy="444.13" r="1.4"/>
<circle cx="225.73" cy="444.13" r="1.4"/>
<circle cx="227.81" cy="444.13" r="1.4"/>
<circle cx="228.85" cy="444.13" r="1.4"/>
<circle cx="229.89" cy="444.13" r="1.4"/>
<circle cx="230.93" cy="444.13" r="1.4"/>
<circle cx="233" cy="444.13" r="1.4"/>
<circle cx="234.04" cy="444.13" r="1.4"/>
<circle cx="235.08" cy="444.13" r="1.4"/>
<circle cx="236.12" cy="444.13" r="1.4"/>
<circle cx="237.16" cy="444.13" r="1.4"/>
<circle cx="238.2" cy="444.13" r="1.4"/>
<circle cx="239.24" cy="444.13" r="1.4"/>
<circle cx="241.32" cy="444.13" r="1.4"/>
<circle cx="242.36" cy="444.13" r="1.4"/>
<circle cx="243.4" cy="444.13" r="1.4"/>
<circle cx="244.44" cy="444.13" r="1.4"/>
<circle cx="245.48" cy="444.13" r="1.4"/>
<circle cx="246.51" cy="444.13" r="1.4"/>
<circle cx="247.55" cy="444.13" r="1.4"/>
<circle cx="249.63" cy="444.13" r="1.4"/>
<circle cx="250.67" cy="444.13" r="1.4"/>
<circle cx="251.71" cy="444.13" r="1.4"/>
<circle cx="252.75" cy="444.13" r="1.4"/>
<circle cx="253.79" cy="444.13" r="1.4"/>
<circle cx="254.83" cy="444.13" r="1.4"/>
<circle cx="255.87" cy="444.13" r="1.4"/>
<circle cx="257.95" cy="444.13" r="1.4"/>
<circle cx="258.99" cy="444.13" r="1.4"/>
<circle cx="260.03" cy="444.13" r="1.4"/>
<circle cx="261.06" cy="444.13" r="1.4"/>
<circle cx="262.1" cy="444.13" r="1.4"/>
<circle cx="263.14" cy="444.13" r="1.4"/>
<circle cx="264.18" cy="444.13" r="1.4"/>
<circle cx="266.26" cy="444.13" r="1.4"/>
<circle cx="267.3" cy="444.13" r="1.4"/>
<circle cx="268.34" cy="444.13" r="1.4"/>
<circle cx="269.38" cy="444.13" r="1.4"/>
<circle cx="270.42" cy="444.13" r="1.4"/>
<circle cx="271.46" cy="444.13" r="1.4"/>
<circle cx="272.5" cy="444.13" r="1.4"/>
<circle cx="291.2" cy="444.13" r="1.4"/>
<circle cx="292.24" cy="444.13" r="1.4"/>
<circle cx="293.28" cy="444.13" r="1.4"/>
<circle cx="294.32" cy="444.13" r="1.4"/>
<circle cx="295.36" cy="444.13" r="1.4"/>
<circle cx="296.4" cy="444.13" r="1.4"/>
<circle cx="297.44" cy="444.13" r="1.4"/>
<circle cx="299.52" cy="444.13" r="1.4"/>
<circle cx="300.56" cy="444.13" r="1.4"/>
<circle cx="301.6" cy="444.13" r="1.4"/>
<circle cx="302.64" cy="444.13" r="1.4"/>
<circle cx="303.68" cy="444.13" r="1.4"/>
<circle cx="304.71" cy="444.13" r="1.4"/>
<circle cx="305.75" cy="444.13" r="1.4"/>
<circle cx="307.83" cy="444.13" r="1.4"/>
<circle cx="308.87" cy="444.13" r="1.4"/>
<circle cx="309.91" cy="444.13" r="1.4"/>
<circle cx="310.95" cy="444.13" r="1.4"/>
<circle cx="311.99" cy="444.13" r="1.4"/>
<circle cx="313.03" cy="444.13" r="1.4"/>
<circle cx="314.07" cy="444.13" r="1.4"/>
<circle cx="316.15" cy="444.13" r="1.4"/>
<circle cx="317.19" cy="444.13" r="1.4"/>
<circle cx="318.23" cy="444.13" r="1.4"/>
<circle cx="319.26" cy="444.13" r="1.4"/>
<circle cx="320.3" cy="444.13" r="1.4"/>
<circle cx="321.34" cy="444.13" r="1.4"/>
<circle cx="322.38" cy="444.13" r="1.4"/>
<circle cx="324.46" cy="444.13" r="1.4"/>
<circle cx="325.5" cy="444.13" r="1.4"/>
<circle cx="326.54" cy="444.13" r="1.4"/>
<circle cx="327.58" cy="444.13" r="1.4"/>
<circle cx="328.62" cy="444.13" r="1.4"/>
<circle cx="329.66" cy="444.13" r="1.4"/>
<circle cx="330.7" cy="444.13" r="1.4"/>
<circle cx="332.78" cy="444.13" r="1.4"/>
<circle cx="333.81" cy="444.13" r="1.4"/>
<circle cx="334.85" cy="444.13" r="1.4"/>
<circle cx="335.89" cy="444.13" r="1.4"/>
<circle cx="337.97" cy="444.13" r="1.4"/>
<circle cx="339.01" cy="444.13" r="1.4"/>
<circle cx="340.05" cy="444.13" r="1.4"/>
<circle cx="344.21" cy="444.13" r="1.4"/>
<circle cx="345.25" cy="444.13" r="1.4"/>
<circle cx="346.29" cy="444.13" r="1.4"/>
<circle cx="347.33" cy="436.61" r="1.4"/>
<circle cx="348.36" cy="436.61" r="1.4"/>
<circle cx="349.4" cy="436.61" r="1.4"/>
</g>
<text class="l" x="281.85" y="467.45" text-anchor="middle">DCA location u</text>
<text class="l" transform="translate(197.9 395.25) rotate(-90)" text-anchor="middle">w(u)</text>
<text class="c" x="278.6" y="482" text-anchor="middle">(<tspan>h</tspan>)</text>
</g>
<g id="plot-i">
<rect x="396.6" y="338.85" width="145" height="112.8" fill="none" stroke="#7a7a7a" stroke-width="0.8"/>
<text class="t" x="396.6" y="459.25" text-anchor="middle">-80</text>
<text class="t" x="414.73" y="459.25" text-anchor="middle">-60</text>
<text class="t" x="432.85" y="459.25" text-anchor="middle">-40</text>
<text class="t" x="450.98" y="459.25" text-anchor="middle">-20</text>
<text class="t" x="469.1" y="459.25" text-anchor="middle">0</text>
<text class="t" x="487.23" y="459.25" text-anchor="middle">20</text>
<text class="t" x="505.35" y="459.25" text-anchor="middle">40</text>
<text class="t" x="523.48" y="459.25" text-anchor="middle">60</text>
<text class="t" x="541.6" y="459.25" text-anchor="middle">80</text>
<text class="t" x="394.6" y="453.75" text-anchor="end">0</text>
<text class="t" x="394.6" y="416.15" text-anchor="end">5</text>
<text class="t" x="394.6" y="378.55" text-anchor="end">10</text>
<text class="t" x="394.6" y="340.95" text-anchor="end">15</text>
<path d="M396.6 451.65v-1.3M396.6 338.85v1.3M414.73 451.65v-1.3M414.73 338.85v1.3M432.85 451.65v-1.3M432.85 338.85v1.3M450.98 451.65v-1.3M450.98 338.85v1.3M469.1 451.65v-1.3M469.1 338.85v1.3M487.23 451.65v-1.3M487.23 338.85v1.3M505.35 451.65v-1.3M505.35 338.85v1.3M523.48 451.65v-1.3M523.48 338.85v1.3M541.6 451.65v-1.3M541.6 338.85v1.3M396.6 451.65h1.3M541.6 451.65h-1.3M396.6 414.05h1.3M541.6 414.05h-1.3M396.6 376.45h1.3M541.6 376.45h-1.3M396.6 338.85h1.3M541.6 338.85h-1.3" stroke="#7a7a7a" stroke-width="0.8" fill="none"/>
<rect x="409.09" y="450.25" width="120.03" height="1.9" fill="#fff"/>
<path d="M402.94 452.15V445.63M405.66 452.15V445.63M409.29 444.13V438.11M412.01 444.13V438.11M415.63 444.13V430.59M417.44 444.13V438.11M421.07 444.13V438.11M425.6 444.13V438.11M432.85 444.13V430.59M440.1 444.13V423.07M447.35 444.13V415.55M454.6 444.13V408.03M457.32 444.13V438.11M461.85 429.09V400.51M465.48 444.13V430.59M469.1 436.61V340.35M472.73 444.13V430.59M476.35 429.09V400.51M480.88 444.13V438.11M483.6 444.13V408.03M490.85 444.13V415.55M498.1 444.13V423.07M505.35 444.13V430.59M512.6 444.13V438.11M517.13 444.13V438.11M520.76 444.13V438.11M522.57 444.13V430.59M526.19 444.13V438.11M528.91 444.13V438.11M532.54 452.15V445.63M535.26 452.15V445.63" stroke="#0072BD" stroke-width="0.8" stroke-opacity="0.55" fill="none"/>
<path d="M409.29 452.15V444.13M410.19 452.15V445.63M411.1 452.15V445.63M412.01 452.15V444.13M412.91 452.15V445.63M413.82 452.15V445.63M414.73 452.15V445.63M415.63 452.15V444.13M416.54 452.15V445.63M417.44 452.15V444.13M418.35 452.15V445.63M419.26 452.15V445.63M420.16 452.15V445.63M421.07 452.15V444.13M421.98 452.15V445.63M422.88 452.15V445.63M423.79 452.15V445.63M424.69 452.15V445.63M425.6 452.15V444.13M426.51 452.15V445.63M427.41 452.15V445.63M428.32 452.15V445.63M429.23 452.15V445.63M430.13 452.15V445.63M431.04 452.15V445.63M431.94 452.15V445.63M432.85 452.15V444.13M433.76 452.15V445.63M434.66 452.15V445.63M435.57 452.15V445.63M436.48 452.15V445.63M437.38 452.15V445.63M438.29 452.15V445.63M439.19 452.15V445.63M440.1 452.15V444.13M441.01 452.15V445.63M441.91 452.15V445.63M442.82 452.15V445.63M443.73 452.15V445.63M444.63 452.15V445.63M445.54 452.15V445.63M446.44 452.15V445.63M447.35 452.15V444.13M448.26 452.15V445.63M449.16 452.15V445.63M450.07 452.15V445.63M450.98 452.15V445.63M451.88 452.15V445.63M452.79 452.15V445.63M453.69 452.15V445.63M454.6 452.15V444.13M455.51 452.15V445.63M456.41 452.15V445.63M457.32 452.15V444.13M458.23 452.15V445.63M459.13 452.15V445.63M460.04 452.15V445.63M460.94 452.15V438.11M461.85 452.15V429.09M462.76 452.15V430.59M463.66 452.15V438.11M464.57 452.15V445.63M465.48 452.15V444.13M466.38 452.15V445.63M467.29 452.15V438.11M468.19 452.15V438.11M469.1 452.15V436.61M470.01 452.15V438.11M470.91 452.15V438.11M471.82 452.15V445.63M472.73 452.15V444.13M473.63 452.15V445.63M474.54 452.15V438.11M475.44 452.15V430.59M476.35 452.15V429.09M477.26 452.15V438.11M478.16 452.15V445.63M479.07 452.15V445.63M479.98 452.15V445.63M480.88 452.15V444.13M481.79 452.15V445.63M482.69 452.15V445.63M483.6 452.15V444.13M484.51 452.15V445.63M485.41 452.15V445.63M486.32 452.15V445.63M487.23 452.15V445.63M488.13 452.15V445.63M489.04 452.15V445.63M489.94 452.15V445.63M490.85 452.15V444.13M491.76 452.15V445.63M492.66 452.15V445.63M493.57 452.15V445.63M494.48 452.15V445.63M495.38 452.15V445.63M496.29 452.15V445.63M497.19 452.15V445.63M498.1 452.15V444.13M499.01 452.15V445.63M499.91 452.15V445.63M500.82 452.15V445.63M501.73 452.15V445.63M502.63 452.15V445.63M503.54 452.15V445.63M504.44 452.15V445.63M505.35 452.15V444.13M506.26 452.15V445.63M507.16 452.15V445.63M508.07 452.15V445.63M508.98 452.15V445.63M509.88 452.15V445.63M510.79 452.15V445.63M511.69 452.15V445.63M512.6 452.15V444.13M513.51 452.15V445.63M514.41 452.15V445.63M515.32 452.15V445.63M516.23 452.15V445.63M517.13 452.15V444.13M518.04 452.15V445.63M518.94 452.15V445.63M519.85 452.15V445.63M520.76 452.15V444.13M521.66 452.15V445.63M522.57 452.15V444.13M523.48 452.15V445.63M524.38 452.15V445.63M525.29 452.15V445.63M526.19 452.15V444.13M527.1 452.15V445.63M528.01 452.15V445.63M528.91 452.15V444.13" stroke="#0072BD" stroke-width="0.9" stroke-opacity="0.62" fill="none"/>
<g fill="none" stroke="#0072BD" stroke-width="0.5" stroke-opacity="0.9">
<circle cx="402.94" cy="444.13" r="1.7"/>
<circle cx="405.66" cy="444.13" r="1.7"/>
<circle cx="409.29" cy="436.61" r="1.7"/>
<circle cx="410.19" cy="444.13" r="1.7"/>
<circle cx="411.1" cy="444.13" r="1.7"/>
<circle cx="412.01" cy="436.61" r="1.7"/>
<circle cx="415.63" cy="429.09" r="1.7"/>
<circle cx="416.54" cy="444.13" r="1.7"/>
<circle cx="417.44" cy="436.61" r="1.7"/>
<circle cx="421.07" cy="436.61" r="1.7"/>
<circle cx="425.6" cy="436.61" r="1.7"/>
<circle cx="432.85" cy="429.09" r="1.7"/>
<circle cx="440.1" cy="421.57" r="1.7"/>
<circle cx="447.35" cy="414.05" r="1.7"/>
<circle cx="454.6" cy="406.53" r="1.7"/>
<circle cx="455.51" cy="444.13" r="1.7"/>
<circle cx="456.41" cy="444.13" r="1.7"/>
<circle cx="457.32" cy="436.61" r="1.7"/>
<circle cx="460.94" cy="436.61" r="1.7"/>
<circle cx="461.85" cy="399.01" r="1.7"/>
<circle cx="462.76" cy="429.09" r="1.7"/>
<circle cx="463.66" cy="436.61" r="1.7"/>
<circle cx="464.57" cy="444.13" r="1.7"/>
<circle cx="465.48" cy="429.09" r="1.7"/>
<circle cx="466.38" cy="444.13" r="1.7"/>
<circle cx="467.29" cy="436.61" r="1.7"/>
<circle cx="468.19" cy="436.61" r="1.7"/>
<circle cx="469.1" cy="338.85" r="1.7"/>
<circle cx="470.01" cy="436.61" r="1.7"/>
<circle cx="470.91" cy="436.61" r="1.7"/>
<circle cx="471.82" cy="444.13" r="1.7"/>
<circle cx="472.73" cy="429.09" r="1.7"/>
<circle cx="473.63" cy="444.13" r="1.7"/>
<circle cx="474.54" cy="436.61" r="1.7"/>
<circle cx="475.44" cy="429.09" r="1.7"/>
<circle cx="476.35" cy="399.01" r="1.7"/>
<circle cx="477.26" cy="436.61" r="1.7"/>
<circle cx="480.88" cy="436.61" r="1.7"/>
<circle cx="481.79" cy="444.13" r="1.7"/>
<circle cx="482.69" cy="444.13" r="1.7"/>
<circle cx="483.6" cy="406.53" r="1.7"/>
<circle cx="490.85" cy="414.05" r="1.7"/>
<circle cx="498.1" cy="421.57" r="1.7"/>
<circle cx="505.35" cy="429.09" r="1.7"/>
<circle cx="512.6" cy="436.61" r="1.7"/>
<circle cx="517.13" cy="436.61" r="1.7"/>
<circle cx="520.76" cy="436.61" r="1.7"/>
<circle cx="521.66" cy="444.13" r="1.7"/>
<circle cx="522.57" cy="429.09" r="1.7"/>
<circle cx="526.19" cy="436.61" r="1.7"/>
<circle cx="527.1" cy="444.13" r="1.7"/>
<circle cx="528.01" cy="444.13" r="1.7"/>
<circle cx="528.91" cy="436.61" r="1.7"/>
<circle cx="532.54" cy="444.13" r="1.7"/>
<circle cx="535.26" cy="444.13" r="1.7"/>
</g>
<g fill="none" stroke="#0072BD" stroke-width="0.7" stroke-opacity="1.0">
<circle cx="412.91" cy="444.13" r="1.4"/>
<circle cx="413.82" cy="444.13" r="1.4"/>
<circle cx="414.73" cy="444.13" r="1.4"/>
<circle cx="418.35" cy="444.13" r="1.4"/>
<circle cx="419.26" cy="444.13" r="1.4"/>
<circle cx="420.16" cy="444.13" r="1.4"/>
<circle cx="421.98" cy="444.13" r="1.4"/>
<circle cx="422.88" cy="444.13" r="1.4"/>
<circle cx="423.79" cy="444.13" r="1.4"/>
<circle cx="424.69" cy="444.13" r="1.4"/>
<circle cx="426.51" cy="444.13" r="1.4"/>
<circle cx="427.41" cy="444.13" r="1.4"/>
<circle cx="428.32" cy="444.13" r="1.4"/>
<circle cx="429.23" cy="444.13" r="1.4"/>
<circle cx="430.13" cy="444.13" r="1.4"/>
<circle cx="431.04" cy="444.13" r="1.4"/>
<circle cx="431.94" cy="444.13" r="1.4"/>
<circle cx="433.76" cy="444.13" r="1.4"/>
<circle cx="434.66" cy="444.13" r="1.4"/>
<circle cx="435.57" cy="444.13" r="1.4"/>
<circle cx="436.48" cy="444.13" r="1.4"/>
<circle cx="437.38" cy="444.13" r="1.4"/>
<circle cx="438.29" cy="444.13" r="1.4"/>
<circle cx="439.19" cy="444.13" r="1.4"/>
<circle cx="441.01" cy="444.13" r="1.4"/>
<circle cx="441.91" cy="444.13" r="1.4"/>
<circle cx="442.82" cy="444.13" r="1.4"/>
<circle cx="443.73" cy="444.13" r="1.4"/>
<circle cx="444.63" cy="444.13" r="1.4"/>
<circle cx="445.54" cy="444.13" r="1.4"/>
<circle cx="446.44" cy="444.13" r="1.4"/>
<circle cx="448.26" cy="444.13" r="1.4"/>
<circle cx="449.16" cy="444.13" r="1.4"/>
<circle cx="450.07" cy="444.13" r="1.4"/>
<circle cx="450.98" cy="444.13" r="1.4"/>
<circle cx="451.88" cy="444.13" r="1.4"/>
<circle cx="452.79" cy="444.13" r="1.4"/>
<circle cx="453.69" cy="444.13" r="1.4"/>
<circle cx="458.23" cy="444.13" r="1.4"/>
<circle cx="459.13" cy="444.13" r="1.4"/>
<circle cx="460.04" cy="444.13" r="1.4"/>
<circle cx="478.16" cy="444.13" r="1.4"/>
<circle cx="479.07" cy="444.13" r="1.4"/>
<circle cx="479.98" cy="444.13" r="1.4"/>
<circle cx="484.51" cy="444.13" r="1.4"/>
<circle cx="485.41" cy="444.13" r="1.4"/>
<circle cx="486.32" cy="444.13" r="1.4"/>
<circle cx="487.23" cy="444.13" r="1.4"/>
<circle cx="488.13" cy="444.13" r="1.4"/>
<circle cx="489.04" cy="444.13" r="1.4"/>
<circle cx="489.94" cy="444.13" r="1.4"/>
<circle cx="491.76" cy="444.13" r="1.4"/>
<circle cx="492.66" cy="444.13" r="1.4"/>
<circle cx="493.57" cy="444.13" r="1.4"/>
<circle cx="494.48" cy="444.13" r="1.4"/>
<circle cx="495.38" cy="444.13" r="1.4"/>
<circle cx="496.29" cy="444.13" r="1.4"/>
<circle cx="497.19" cy="444.13" r="1.4"/>
<circle cx="499.01" cy="444.13" r="1.4"/>
<circle cx="499.91" cy="444.13" r="1.4"/>
<circle cx="500.82" cy="444.13" r="1.4"/>
<circle cx="501.73" cy="444.13" r="1.4"/>
<circle cx="502.63" cy="444.13" r="1.4"/>
<circle cx="503.54" cy="444.13" r="1.4"/>
<circle cx="504.44" cy="444.13" r="1.4"/>
<circle cx="506.26" cy="444.13" r="1.4"/>
<circle cx="507.16" cy="444.13" r="1.4"/>
<circle cx="508.07" cy="444.13" r="1.4"/>
<circle cx="508.98" cy="444.13" r="1.4"/>
<circle cx="509.88" cy="444.13" r="1.4"/>
<circle cx="510.79" cy="444.13" r="1.4"/>
<circle cx="511.69" cy="444.13" r="1.4"/>
<circle cx="513.51" cy="444.13" r="1.4"/>
<circle cx="514.41" cy="444.13" r="1.4"/>
<circle cx="515.32" cy="444.13" r="1.4"/>
<circle cx="516.23" cy="444.13" r="1.4"/>
<circle cx="518.04" cy="444.13" r="1.4"/>
<circle cx="518.94" cy="444.13" r="1.4"/>
<circle cx="519.85" cy="444.13" r="1.4"/>
<circle cx="523.48" cy="444.13" r="1.4"/>
<circle cx="524.38" cy="444.13" r="1.4"/>
<circle cx="525.29" cy="444.13" r="1.4"/>
</g>
<text class="l" x="469.1" y="467.45" text-anchor="middle">DCA location u</text>
<text class="l" transform="translate(385.4 395.25) rotate(-90)" text-anchor="middle">w(u)</text>
<text class="c" x="466.05" y="482" text-anchor="middle">(<tspan>i</tspan>)</text>
</g>
</svg></body></html>
